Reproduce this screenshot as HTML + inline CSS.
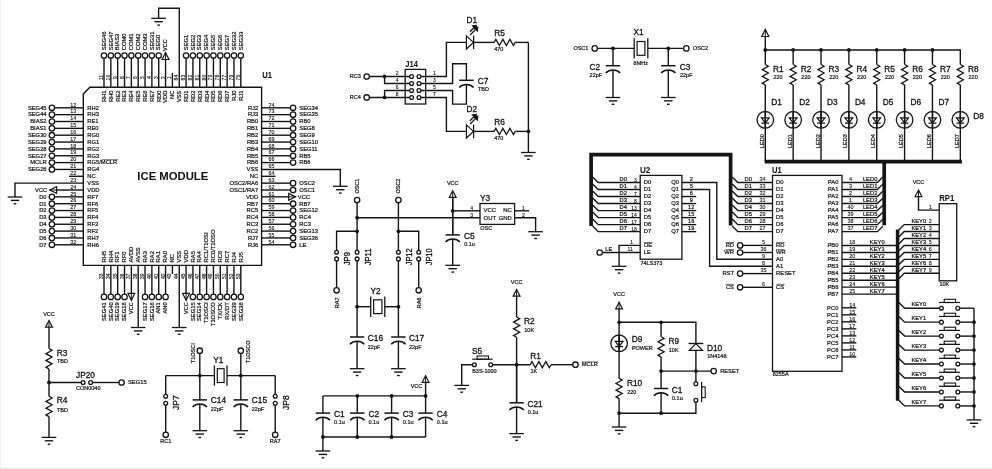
<!DOCTYPE html>
<html lang="en">
<head>
<meta charset="utf-8">
<title>ICE Module schematic</title>
<style>
html,body{margin:0;padding:0;background:#fff;}
body{width:992px;height:469px;overflow:hidden;position:relative;}
svg{will-change:transform;display:block;position:absolute;left:0;top:0;}
svg text{font-family:"Liberation Sans",sans-serif;fill:#151515;stroke:#151515;stroke-width:0.22;}
svg text.n{stroke-width:0.12;}
svg text.r{stroke-width:0.3;}
svg text.b{stroke-width:0.05;}
svg text.h{stroke-width:0.35;}
.frame{position:absolute;left:0;top:0;width:992px;height:469px;box-sizing:border-box;border-left:1px solid #f1f1f1;border-bottom:2px solid #f3f3f3;pointer-events:none;}
</style>
</head>
<body>
<svg width="992" height="469" viewBox="0 0 992 469" fill="none" stroke="#151515" stroke-width="1.4" stroke-linecap="butt" stroke-linejoin="miter">
<polygon points="89.9,87.3 261.6,87.3 261.6,265.4 83.3,265.4 83.3,93.9" stroke-width="1.4"/>
<text x="172.8" y="180.2" font-size="11.3" class="b" text-anchor="middle" font-weight="bold">ICE MODULE</text>
<text x="262.2" y="77.6" font-size="8.8" textLength="9.7" lengthAdjust="spacingAndGlyphs" class="b" font-weight="bold">U1</text>
<text font-size="5.8" text-anchor="end" transform="translate(105.9 90.5) rotate(-90)">RH1</text>
<text font-size="5" class="n" text-anchor="middle" transform="translate(103 77.6) rotate(-90)">11</text>
<line x1="104" y1="57" x2="104" y2="87.3"/>
<circle cx="104" cy="55.5" r="2.7" fill="#fff" stroke-width="1.3"/>
<text font-size="5.8" transform="translate(105.7 50.2) rotate(-90)">SEG46</text>
<text font-size="5.8" text-anchor="end" transform="translate(112.74 90.5) rotate(-90)">RH0</text>
<text font-size="5" class="n" text-anchor="middle" transform="translate(109.84 77.6) rotate(-90)">10</text>
<line x1="110.84" y1="57" x2="110.84" y2="87.3"/>
<circle cx="110.84" cy="55.5" r="2.7" fill="#fff" stroke-width="1.3"/>
<text font-size="5.8" transform="translate(112.54 50.2) rotate(-90)">SEG47</text>
<text font-size="5.8" text-anchor="end" transform="translate(119.58 90.5) rotate(-90)">RE2</text>
<text font-size="5" class="n" text-anchor="middle" transform="translate(116.68 77.6) rotate(-90)">9</text>
<line x1="117.68" y1="57" x2="117.68" y2="87.3"/>
<circle cx="117.68" cy="55.5" r="2.7" fill="#fff" stroke-width="1.3"/>
<text font-size="5.8" transform="translate(119.38 50.2) rotate(-90)">BIAS3</text>
<text font-size="5.8" text-anchor="end" transform="translate(126.42 90.5) rotate(-90)">RE3</text>
<text font-size="5" class="n" text-anchor="middle" transform="translate(123.52 77.6) rotate(-90)">8</text>
<line x1="124.52" y1="57" x2="124.52" y2="87.3"/>
<circle cx="124.52" cy="55.5" r="2.7" fill="#fff" stroke-width="1.3"/>
<text font-size="5.8" transform="translate(126.22 50.2) rotate(-90)">COM0</text>
<text font-size="5.8" text-anchor="end" transform="translate(133.26 90.5) rotate(-90)">RE4</text>
<text font-size="5" class="n" text-anchor="middle" transform="translate(130.36 77.6) rotate(-90)">7</text>
<line x1="131.36" y1="57" x2="131.36" y2="87.3"/>
<circle cx="131.36" cy="55.5" r="2.7" fill="#fff" stroke-width="1.3"/>
<text font-size="5.8" transform="translate(133.06 50.2) rotate(-90)">COM1</text>
<text font-size="5.8" text-anchor="end" transform="translate(140.1 90.5) rotate(-90)">RE5</text>
<text font-size="5" class="n" text-anchor="middle" transform="translate(137.2 77.6) rotate(-90)">6</text>
<line x1="138.2" y1="57" x2="138.2" y2="87.3"/>
<circle cx="138.2" cy="55.5" r="2.7" fill="#fff" stroke-width="1.3"/>
<text font-size="5.8" transform="translate(139.9 50.2) rotate(-90)">COM2</text>
<text font-size="5.8" text-anchor="end" transform="translate(146.94 90.5) rotate(-90)">RE6</text>
<text font-size="5" class="n" text-anchor="middle" transform="translate(144.04 77.6) rotate(-90)">5</text>
<line x1="145.04" y1="57" x2="145.04" y2="87.3"/>
<circle cx="145.04" cy="55.5" r="2.7" fill="#fff" stroke-width="1.3"/>
<text font-size="5.8" transform="translate(146.74 50.2) rotate(-90)">COM3</text>
<text font-size="5.8" text-anchor="end" transform="translate(153.78 90.5) rotate(-90)">RE7</text>
<text font-size="5" class="n" text-anchor="middle" transform="translate(150.88 77.6) rotate(-90)">4</text>
<line x1="151.88" y1="57" x2="151.88" y2="87.3"/>
<circle cx="151.88" cy="55.5" r="2.7" fill="#fff" stroke-width="1.3"/>
<text font-size="5.8" transform="translate(153.58 50.2) rotate(-90)">SEG31</text>
<text font-size="5.8" text-anchor="end" transform="translate(160.62 90.5) rotate(-90)">RD0</text>
<text font-size="5" class="n" text-anchor="middle" transform="translate(157.72 77.6) rotate(-90)">3</text>
<line x1="158.72" y1="57" x2="158.72" y2="87.3"/>
<circle cx="158.72" cy="55.5" r="2.7" fill="#fff" stroke-width="1.3"/>
<text font-size="5.8" transform="translate(160.42 50.2) rotate(-90)">SEG0</text>
<text font-size="5.8" text-anchor="end" transform="translate(167.46 90.5) rotate(-90)">VDD</text>
<text font-size="5" class="n" text-anchor="middle" transform="translate(164.56 77.6) rotate(-90)">2</text>
<line x1="165.56" y1="59" x2="165.56" y2="87.3"/>
<polygon points="162.16,59.5 168.96,59.5 165.56,52.6" stroke-width="1.2" fill="#fff"/>
<line x1="165.56" y1="52.6" x2="165.56" y2="59.5" stroke-width="1"/>
<text font-size="5.5" transform="translate(167.26 51) rotate(-90)">VCC</text>
<text font-size="5.8" text-anchor="end" transform="translate(174.3 90.5) rotate(-90)">NC</text>
<text font-size="5" class="n" text-anchor="middle" transform="translate(171.4 77.6) rotate(-90)">1</text>
<line x1="172.4" y1="73" x2="172.4" y2="87.3"/>
<text font-size="5.8" text-anchor="end" transform="translate(181.14 90.5) rotate(-90)">VSS</text>
<text font-size="5" class="n" text-anchor="middle" transform="translate(178.24 77.6) rotate(-90)">84</text>
<polyline points="179.24,87.3 179.24,8.3 158.6,8.3 158.6,18.3"/>
<line x1="151.3" y1="18.3" x2="165.9" y2="18.3" stroke-width="1.3"/>
<line x1="154.4" y1="21.7" x2="162.8" y2="21.7" stroke-width="1.4"/>
<line x1="157.3" y1="25.1" x2="159.9" y2="25.1" stroke-width="1.4"/>
<text font-size="5.8" text-anchor="end" transform="translate(187.98 90.5) rotate(-90)">RD1</text>
<text font-size="5" class="n" text-anchor="middle" transform="translate(185.08 77.6) rotate(-90)">83</text>
<line x1="186.08" y1="57" x2="186.08" y2="87.3"/>
<circle cx="186.08" cy="55.5" r="2.7" fill="#fff" stroke-width="1.3"/>
<text font-size="5.8" transform="translate(187.78 50.2) rotate(-90)">SEG1</text>
<text font-size="5.8" text-anchor="end" transform="translate(194.82 90.5) rotate(-90)">RD2</text>
<text font-size="5" class="n" text-anchor="middle" transform="translate(191.92 77.6) rotate(-90)">82</text>
<line x1="192.92" y1="57" x2="192.92" y2="87.3"/>
<circle cx="192.92" cy="55.5" r="2.7" fill="#fff" stroke-width="1.3"/>
<text font-size="5.8" transform="translate(194.62 50.2) rotate(-90)">SEG2</text>
<text font-size="5.8" text-anchor="end" transform="translate(201.66 90.5) rotate(-90)">RD3</text>
<text font-size="5" class="n" text-anchor="middle" transform="translate(198.76 77.6) rotate(-90)">81</text>
<line x1="199.76" y1="57" x2="199.76" y2="87.3"/>
<circle cx="199.76" cy="55.5" r="2.7" fill="#fff" stroke-width="1.3"/>
<text font-size="5.8" transform="translate(201.46 50.2) rotate(-90)">SEG3</text>
<text font-size="5.8" text-anchor="end" transform="translate(208.5 90.5) rotate(-90)">RD4</text>
<text font-size="5" class="n" text-anchor="middle" transform="translate(205.6 77.6) rotate(-90)">80</text>
<line x1="206.6" y1="57" x2="206.6" y2="87.3"/>
<circle cx="206.6" cy="55.5" r="2.7" fill="#fff" stroke-width="1.3"/>
<text font-size="5.8" transform="translate(208.3 50.2) rotate(-90)">SEG4</text>
<text font-size="5.8" text-anchor="end" transform="translate(215.34 90.5) rotate(-90)">RD5</text>
<text font-size="5" class="n" text-anchor="middle" transform="translate(212.44 77.6) rotate(-90)">79</text>
<line x1="213.44" y1="57" x2="213.44" y2="87.3"/>
<circle cx="213.44" cy="55.5" r="2.7" fill="#fff" stroke-width="1.3"/>
<text font-size="5.8" transform="translate(215.14 50.2) rotate(-90)">SEG5</text>
<text font-size="5.8" text-anchor="end" transform="translate(222.18 90.5) rotate(-90)">RD6</text>
<text font-size="5" class="n" text-anchor="middle" transform="translate(219.28 77.6) rotate(-90)">78</text>
<line x1="220.28" y1="57" x2="220.28" y2="87.3"/>
<circle cx="220.28" cy="55.5" r="2.7" fill="#fff" stroke-width="1.3"/>
<text font-size="5.8" transform="translate(221.98 50.2) rotate(-90)">SEG6</text>
<text font-size="5.8" text-anchor="end" transform="translate(229.02 90.5) rotate(-90)">RD7</text>
<text font-size="5" class="n" text-anchor="middle" transform="translate(226.12 77.6) rotate(-90)">77</text>
<line x1="227.12" y1="57" x2="227.12" y2="87.3"/>
<circle cx="227.12" cy="55.5" r="2.7" fill="#fff" stroke-width="1.3"/>
<text font-size="5.8" transform="translate(228.82 50.2) rotate(-90)">SEG7</text>
<text font-size="5.8" text-anchor="end" transform="translate(235.86 90.5) rotate(-90)">RJ0</text>
<text font-size="5" class="n" text-anchor="middle" transform="translate(232.96 77.6) rotate(-90)">76</text>
<line x1="233.96" y1="57" x2="233.96" y2="87.3"/>
<circle cx="233.96" cy="55.5" r="2.7" fill="#fff" stroke-width="1.3"/>
<text font-size="5.8" transform="translate(235.66 50.2) rotate(-90)">SEG32</text>
<text font-size="5.8" text-anchor="end" transform="translate(242.7 90.5) rotate(-90)">RJ1</text>
<text font-size="5" class="n" text-anchor="middle" transform="translate(239.8 77.6) rotate(-90)">75</text>
<line x1="240.8" y1="57" x2="240.8" y2="87.3"/>
<circle cx="240.8" cy="55.5" r="2.7" fill="#fff" stroke-width="1.3"/>
<text font-size="5.8" transform="translate(242.5 50.2) rotate(-90)">SEG33</text>
<text font-size="5.8" transform="translate(105.7 262.4) rotate(-90)">RH5</text>
<text font-size="5" class="n" text-anchor="middle" transform="translate(103 276.2) rotate(-90)">33</text>
<line x1="104" y1="265.4" x2="104" y2="295"/>
<circle cx="104" cy="296.9" r="2.7" fill="#fff" stroke-width="1.3"/>
<text font-size="5.8" text-anchor="end" transform="translate(105.7 302.3) rotate(-90)">SEG41</text>
<text font-size="5.8" transform="translate(112.54 262.4) rotate(-90)">RH4</text>
<text font-size="5" class="n" text-anchor="middle" transform="translate(109.84 276.2) rotate(-90)">34</text>
<line x1="110.84" y1="265.4" x2="110.84" y2="295"/>
<circle cx="110.84" cy="296.9" r="2.7" fill="#fff" stroke-width="1.3"/>
<text font-size="5.8" text-anchor="end" transform="translate(112.54 302.3) rotate(-90)">SEG40</text>
<text font-size="5.8" transform="translate(119.38 262.4) rotate(-90)">RF1</text>
<text font-size="5" class="n" text-anchor="middle" transform="translate(116.68 276.2) rotate(-90)">35</text>
<line x1="117.68" y1="265.4" x2="117.68" y2="295"/>
<circle cx="117.68" cy="296.9" r="2.7" fill="#fff" stroke-width="1.3"/>
<text font-size="5.8" text-anchor="end" transform="translate(119.38 302.3) rotate(-90)">SEG19</text>
<text font-size="5.8" transform="translate(126.22 262.4) rotate(-90)">RF0</text>
<text font-size="5" class="n" text-anchor="middle" transform="translate(123.52 276.2) rotate(-90)">36</text>
<line x1="124.52" y1="265.4" x2="124.52" y2="295"/>
<circle cx="124.52" cy="296.9" r="2.7" fill="#fff" stroke-width="1.3"/>
<text font-size="5.8" text-anchor="end" transform="translate(126.22 302.3) rotate(-90)">SEG18</text>
<text font-size="5.8" transform="translate(133.06 262.4) rotate(-90)">AVDD</text>
<text font-size="5" class="n" text-anchor="middle" transform="translate(130.36 276.2) rotate(-90)">37</text>
<line x1="131.36" y1="265.4" x2="131.36" y2="294"/>
<polygon points="127.96,293.4 134.76,293.4 131.36,300.3" stroke-width="1.2" fill="#fff"/>
<line x1="131.36" y1="300.3" x2="131.36" y2="293.4" stroke-width="1"/>
<text font-size="5.5" text-anchor="end" transform="translate(133.06 302.3) rotate(-90)">VCC</text>
<text font-size="5.8" transform="translate(139.9 262.4) rotate(-90)">AVSS</text>
<text font-size="5" class="n" text-anchor="middle" transform="translate(137.2 276.2) rotate(-90)">38</text>
<line x1="138.2" y1="265.4" x2="138.2" y2="327.5"/>
<line x1="130.9" y1="327.5" x2="145.5" y2="327.5" stroke-width="1.3"/>
<line x1="134" y1="330.9" x2="142.4" y2="330.9" stroke-width="1.4"/>
<line x1="136.9" y1="334.3" x2="139.5" y2="334.3" stroke-width="1.4"/>
<text font-size="5.8" transform="translate(146.74 262.4) rotate(-90)">RA3</text>
<text font-size="5" class="n" text-anchor="middle" transform="translate(144.04 276.2) rotate(-90)">39</text>
<line x1="145.04" y1="265.4" x2="145.04" y2="295"/>
<circle cx="145.04" cy="296.9" r="2.7" fill="#fff" stroke-width="1.3"/>
<text font-size="5.8" text-anchor="end" transform="translate(146.74 302.3) rotate(-90)">SEG17</text>
<text font-size="5.8" transform="translate(153.58 262.4) rotate(-90)">RA2</text>
<text font-size="5" class="n" text-anchor="middle" transform="translate(150.88 276.2) rotate(-90)">40</text>
<line x1="151.88" y1="265.4" x2="151.88" y2="295"/>
<circle cx="151.88" cy="296.9" r="2.7" fill="#fff" stroke-width="1.3"/>
<text font-size="5.8" text-anchor="end" transform="translate(153.58 302.3) rotate(-90)">SEG16</text>
<text font-size="5.8" transform="translate(160.42 262.4) rotate(-90)">RA1</text>
<text font-size="5" class="n" text-anchor="middle" transform="translate(157.72 276.2) rotate(-90)">41</text>
<line x1="158.72" y1="265.4" x2="158.72" y2="295"/>
<circle cx="158.72" cy="296.9" r="2.7" fill="#fff" stroke-width="1.3"/>
<text font-size="5.8" text-anchor="end" transform="translate(160.42 302.3) rotate(-90)">AN1</text>
<text font-size="5.8" transform="translate(167.26 262.4) rotate(-90)">RA0</text>
<text font-size="5" class="n" text-anchor="middle" transform="translate(164.56 276.2) rotate(-90)">42</text>
<line x1="165.56" y1="265.4" x2="165.56" y2="295"/>
<circle cx="165.56" cy="296.9" r="2.7" fill="#fff" stroke-width="1.3"/>
<text font-size="5.8" text-anchor="end" transform="translate(167.26 302.3) rotate(-90)">AN0</text>
<text font-size="5.8" transform="translate(174.1 262.4) rotate(-90)">NC</text>
<text font-size="5" class="n" text-anchor="middle" transform="translate(171.4 276.2) rotate(-90)">43</text>
<line x1="172.4" y1="265.4" x2="172.4" y2="274"/>
<text font-size="5.8" transform="translate(180.94 262.4) rotate(-90)">VSS</text>
<text font-size="5" class="n" text-anchor="middle" transform="translate(178.24 276.2) rotate(-90)">44</text>
<line x1="179.24" y1="265.4" x2="179.24" y2="327.5"/>
<line x1="171.94" y1="327.5" x2="186.54" y2="327.5" stroke-width="1.3"/>
<line x1="175.04" y1="330.9" x2="183.44" y2="330.9" stroke-width="1.4"/>
<line x1="177.94" y1="334.3" x2="180.54" y2="334.3" stroke-width="1.4"/>
<text font-size="5.8" transform="translate(187.78 262.4) rotate(-90)">VDD</text>
<text font-size="5" class="n" text-anchor="middle" transform="translate(185.08 276.2) rotate(-90)">45</text>
<line x1="186.08" y1="265.4" x2="186.08" y2="294"/>
<polygon points="182.68,293.4 189.48,293.4 186.08,300.3" stroke-width="1.2" fill="#fff"/>
<line x1="186.08" y1="300.3" x2="186.08" y2="293.4" stroke-width="1"/>
<text font-size="5.5" text-anchor="end" transform="translate(187.78 302.3) rotate(-90)">VCC</text>
<text font-size="5.8" transform="translate(194.62 262.4) rotate(-90)">RA5</text>
<text font-size="5" class="n" text-anchor="middle" transform="translate(191.92 276.2) rotate(-90)">46</text>
<line x1="192.92" y1="265.4" x2="192.92" y2="295"/>
<circle cx="192.92" cy="296.9" r="2.7" fill="#fff" stroke-width="1.3"/>
<text font-size="5.8" text-anchor="end" transform="translate(194.62 302.3) rotate(-90)">SEG15</text>
<text font-size="5.8" transform="translate(201.46 262.4) rotate(-90)">RA4</text>
<text font-size="5" class="n" text-anchor="middle" transform="translate(198.76 276.2) rotate(-90)">47</text>
<line x1="199.76" y1="265.4" x2="199.76" y2="295"/>
<circle cx="199.76" cy="296.9" r="2.7" fill="#fff" stroke-width="1.3"/>
<text font-size="5.8" text-anchor="end" transform="translate(201.46 302.3) rotate(-90)">SEG14</text>
<text font-size="5.8" transform="translate(208.3 262.4) rotate(-90)">RC1/T1OSI</text>
<text font-size="5" class="n" text-anchor="middle" transform="translate(205.6 276.2) rotate(-90)">48</text>
<line x1="206.6" y1="265.4" x2="206.6" y2="295"/>
<circle cx="206.6" cy="296.9" r="2.7" fill="#fff" stroke-width="1.3"/>
<text font-size="5.8" text-anchor="end" transform="translate(208.3 302.3) rotate(-90)">T1OSCI</text>
<text font-size="5.8" transform="translate(215.14 262.4) rotate(-90)">RC0/T1OSO</text>
<text font-size="5" class="n" text-anchor="middle" transform="translate(212.44 276.2) rotate(-90)">49</text>
<line x1="213.44" y1="265.4" x2="213.44" y2="295"/>
<circle cx="213.44" cy="296.9" r="2.7" fill="#fff" stroke-width="1.3"/>
<text font-size="5.8" text-anchor="end" transform="translate(215.14 302.3) rotate(-90)">T1OSCO</text>
<text font-size="5.8" transform="translate(221.98 262.4) rotate(-90)">RC6</text>
<text font-size="5" class="n" text-anchor="middle" transform="translate(219.28 276.2) rotate(-90)">50</text>
<line x1="220.28" y1="265.4" x2="220.28" y2="295"/>
<circle cx="220.28" cy="296.9" r="2.7" fill="#fff" stroke-width="1.3"/>
<text font-size="5.8" text-anchor="end" transform="translate(221.98 302.3) rotate(-90)">TX/CK</text>
<text font-size="5.8" transform="translate(228.82 262.4) rotate(-90)">RC7</text>
<text font-size="5" class="n" text-anchor="middle" transform="translate(226.12 276.2) rotate(-90)">51</text>
<line x1="227.12" y1="265.4" x2="227.12" y2="295"/>
<circle cx="227.12" cy="296.9" r="2.7" fill="#fff" stroke-width="1.3"/>
<text font-size="5.8" text-anchor="end" transform="translate(228.82 302.3) rotate(-90)">RX/DT</text>
<text font-size="5.8" transform="translate(235.66 262.4) rotate(-90)">RJ4</text>
<text font-size="5" class="n" text-anchor="middle" transform="translate(232.96 276.2) rotate(-90)">52</text>
<line x1="233.96" y1="265.4" x2="233.96" y2="295"/>
<circle cx="233.96" cy="296.9" r="2.7" fill="#fff" stroke-width="1.3"/>
<text font-size="5.8" text-anchor="end" transform="translate(235.66 302.3) rotate(-90)">SEG39</text>
<text font-size="5.8" transform="translate(242.5 262.4) rotate(-90)">RJ5</text>
<text font-size="5" class="n" text-anchor="middle" transform="translate(239.8 276.2) rotate(-90)">53</text>
<line x1="240.8" y1="265.4" x2="240.8" y2="295"/>
<circle cx="240.8" cy="296.9" r="2.7" fill="#fff" stroke-width="1.3"/>
<text font-size="5.8" text-anchor="end" transform="translate(242.5 302.3) rotate(-90)">SEG38</text>
<text x="87.3" y="109.6" font-size="5.8">RH2</text>
<text x="73.2" y="106.5" font-size="5.4" class="n" text-anchor="middle">12</text>
<line x1="54" y1="107.8" x2="83.3" y2="107.8"/>
<circle cx="51.9" cy="107.8" r="2.7" fill="#fff" stroke-width="1.3"/>
<text x="46.6" y="109.6" font-size="5.8" text-anchor="end">SEG45</text>
<text x="87.3" y="116.45" font-size="5.8">RH3</text>
<text x="73.2" y="113.35" font-size="5.4" class="n" text-anchor="middle">13</text>
<line x1="54" y1="114.65" x2="83.3" y2="114.65"/>
<circle cx="51.9" cy="114.65" r="2.7" fill="#fff" stroke-width="1.3"/>
<text x="46.6" y="116.45" font-size="5.8" text-anchor="end">SEG44</text>
<text x="87.3" y="123.3" font-size="5.8">RE1</text>
<text x="73.2" y="120.2" font-size="5.4" class="n" text-anchor="middle">14</text>
<line x1="54" y1="121.5" x2="83.3" y2="121.5"/>
<circle cx="51.9" cy="121.5" r="2.7" fill="#fff" stroke-width="1.3"/>
<text x="46.6" y="123.3" font-size="5.8" text-anchor="end">BIAS2</text>
<text x="87.3" y="130.15" font-size="5.8">RE0</text>
<text x="73.2" y="127.05" font-size="5.4" class="n" text-anchor="middle">15</text>
<line x1="54" y1="128.35" x2="83.3" y2="128.35"/>
<circle cx="51.9" cy="128.35" r="2.7" fill="#fff" stroke-width="1.3"/>
<text x="46.6" y="130.15" font-size="5.8" text-anchor="end">BIAS1</text>
<text x="87.3" y="137" font-size="5.8">RG0</text>
<text x="73.2" y="133.9" font-size="5.4" class="n" text-anchor="middle">16</text>
<line x1="54" y1="135.2" x2="83.3" y2="135.2"/>
<circle cx="51.9" cy="135.2" r="2.7" fill="#fff" stroke-width="1.3"/>
<text x="46.6" y="137" font-size="5.8" text-anchor="end">SEG30</text>
<text x="87.3" y="143.85" font-size="5.8">RG1</text>
<text x="73.2" y="140.75" font-size="5.4" class="n" text-anchor="middle">17</text>
<line x1="54" y1="142.05" x2="83.3" y2="142.05"/>
<circle cx="51.9" cy="142.05" r="2.7" fill="#fff" stroke-width="1.3"/>
<text x="46.6" y="143.85" font-size="5.8" text-anchor="end">SEG29</text>
<text x="87.3" y="150.7" font-size="5.8">RG2</text>
<text x="73.2" y="147.6" font-size="5.4" class="n" text-anchor="middle">18</text>
<line x1="54" y1="148.9" x2="83.3" y2="148.9"/>
<circle cx="51.9" cy="148.9" r="2.7" fill="#fff" stroke-width="1.3"/>
<text x="46.6" y="150.7" font-size="5.8" text-anchor="end">SEG28</text>
<text x="87.3" y="157.55" font-size="5.8">RG3</text>
<text x="73.2" y="154.45" font-size="5.4" class="n" text-anchor="middle">19</text>
<line x1="54" y1="155.75" x2="83.3" y2="155.75"/>
<circle cx="51.9" cy="155.75" r="2.7" fill="#fff" stroke-width="1.3"/>
<text x="46.6" y="157.55" font-size="5.8" text-anchor="end">SEG27</text>
<text x="87.3" y="164.4" font-size="5.8">RG5/MCLR</text>
<text x="73.2" y="161.3" font-size="5.4" class="n" text-anchor="middle">20</text>
<line x1="101.6" y1="159.7" x2="118.1" y2="159.7" stroke-width="0.6"/>
<line x1="54" y1="162.6" x2="83.3" y2="162.6"/>
<circle cx="51.9" cy="162.6" r="2.7" fill="#fff" stroke-width="1.3"/>
<text x="46.6" y="164.4" font-size="5.8" text-anchor="end">MCLR</text>
<text x="87.3" y="171.25" font-size="5.8">RG4</text>
<text x="73.2" y="168.15" font-size="5.4" class="n" text-anchor="middle">21</text>
<line x1="54" y1="169.45" x2="83.3" y2="169.45"/>
<circle cx="51.9" cy="169.45" r="2.7" fill="#fff" stroke-width="1.3"/>
<text x="46.6" y="171.25" font-size="5.8" text-anchor="end">SEG26</text>
<text x="87.3" y="178.1" font-size="5.8">NC</text>
<text x="73.2" y="175" font-size="5.4" class="n" text-anchor="middle">22</text>
<line x1="69" y1="176.3" x2="83.3" y2="176.3"/>
<text x="87.3" y="184.95" font-size="5.8">VSS</text>
<text x="73.2" y="181.85" font-size="5.4" class="n" text-anchor="middle">23</text>
<polyline points="83.3,183.15 15,183.15 15,197"/>
<line x1="7.7" y1="197" x2="22.3" y2="197" stroke-width="1.3"/>
<line x1="10.8" y1="200.4" x2="19.2" y2="200.4" stroke-width="1.4"/>
<line x1="13.7" y1="203.8" x2="16.3" y2="203.8" stroke-width="1.4"/>
<text x="87.3" y="191.8" font-size="5.8">VDD</text>
<text x="73.2" y="188.7" font-size="5.4" class="n" text-anchor="middle">24</text>
<line x1="56" y1="190" x2="83.3" y2="190"/>
<polygon points="56.6,186.6 56.6,193.4 49.7,190" stroke-width="1.2" fill="#fff"/>
<line x1="49.7" y1="190" x2="56.6" y2="190" stroke-width="1"/>
<text x="47.3" y="191.7" font-size="5.8" text-anchor="end">VCC</text>
<text x="87.3" y="198.65" font-size="5.8">RF7</text>
<text x="73.2" y="195.55" font-size="5.4" class="n" text-anchor="middle">25</text>
<line x1="54" y1="196.85" x2="83.3" y2="196.85"/>
<circle cx="51.9" cy="196.85" r="2.7" fill="#fff" stroke-width="1.3"/>
<text x="46.6" y="198.65" font-size="5.8" text-anchor="end">D0</text>
<text x="87.3" y="205.5" font-size="5.8">RF6</text>
<text x="73.2" y="202.4" font-size="5.4" class="n" text-anchor="middle">26</text>
<line x1="54" y1="203.7" x2="83.3" y2="203.7"/>
<circle cx="51.9" cy="203.7" r="2.7" fill="#fff" stroke-width="1.3"/>
<text x="46.6" y="205.5" font-size="5.8" text-anchor="end">D1</text>
<text x="87.3" y="212.35" font-size="5.8">RF5</text>
<text x="73.2" y="209.25" font-size="5.4" class="n" text-anchor="middle">27</text>
<line x1="54" y1="210.55" x2="83.3" y2="210.55"/>
<circle cx="51.9" cy="210.55" r="2.7" fill="#fff" stroke-width="1.3"/>
<text x="46.6" y="212.35" font-size="5.8" text-anchor="end">D2</text>
<text x="87.3" y="219.2" font-size="5.8">RF4</text>
<text x="73.2" y="216.1" font-size="5.4" class="n" text-anchor="middle">28</text>
<line x1="54" y1="217.4" x2="83.3" y2="217.4"/>
<circle cx="51.9" cy="217.4" r="2.7" fill="#fff" stroke-width="1.3"/>
<text x="46.6" y="219.2" font-size="5.8" text-anchor="end">D3</text>
<text x="87.3" y="226.05" font-size="5.8">RF3</text>
<text x="73.2" y="222.95" font-size="5.4" class="n" text-anchor="middle">29</text>
<line x1="54" y1="224.25" x2="83.3" y2="224.25"/>
<circle cx="51.9" cy="224.25" r="2.7" fill="#fff" stroke-width="1.3"/>
<text x="46.6" y="226.05" font-size="5.8" text-anchor="end">D4</text>
<text x="87.3" y="232.9" font-size="5.8">RF2</text>
<text x="73.2" y="229.8" font-size="5.4" class="n" text-anchor="middle">30</text>
<line x1="54" y1="231.1" x2="83.3" y2="231.1"/>
<circle cx="51.9" cy="231.1" r="2.7" fill="#fff" stroke-width="1.3"/>
<text x="46.6" y="232.9" font-size="5.8" text-anchor="end">D5</text>
<text x="87.3" y="239.75" font-size="5.8">RH7</text>
<text x="73.2" y="236.65" font-size="5.4" class="n" text-anchor="middle">31</text>
<line x1="54" y1="237.95" x2="83.3" y2="237.95"/>
<circle cx="51.9" cy="237.95" r="2.7" fill="#fff" stroke-width="1.3"/>
<text x="46.6" y="239.75" font-size="5.8" text-anchor="end">D6</text>
<text x="87.3" y="246.6" font-size="5.8">RH6</text>
<text x="73.2" y="243.5" font-size="5.4" class="n" text-anchor="middle">32</text>
<line x1="54" y1="244.8" x2="83.3" y2="244.8"/>
<circle cx="51.9" cy="244.8" r="2.7" fill="#fff" stroke-width="1.3"/>
<text x="46.6" y="246.6" font-size="5.8" text-anchor="end">D7</text>
<text x="258.2" y="109.6" font-size="5.8" text-anchor="end">RJ2</text>
<text x="271.5" y="106.5" font-size="5.4" class="n" text-anchor="middle">74</text>
<line x1="261.6" y1="107.8" x2="291" y2="107.8"/>
<circle cx="293.1" cy="107.8" r="2.7" fill="#fff" stroke-width="1.3"/>
<text x="299.3" y="109.6" font-size="5.8">SEG34</text>
<text x="258.2" y="116.45" font-size="5.8" text-anchor="end">RJ3</text>
<text x="271.5" y="113.35" font-size="5.4" class="n" text-anchor="middle">73</text>
<line x1="261.6" y1="114.65" x2="291" y2="114.65"/>
<circle cx="293.1" cy="114.65" r="2.7" fill="#fff" stroke-width="1.3"/>
<text x="299.3" y="116.45" font-size="5.8">SEG35</text>
<text x="258.2" y="123.3" font-size="5.8" text-anchor="end">RB0</text>
<text x="271.5" y="120.2" font-size="5.4" class="n" text-anchor="middle">72</text>
<line x1="261.6" y1="121.5" x2="291" y2="121.5"/>
<circle cx="293.1" cy="121.5" r="2.7" fill="#fff" stroke-width="1.3"/>
<text x="299.3" y="123.3" font-size="5.8">RB0</text>
<text x="258.2" y="130.15" font-size="5.8" text-anchor="end">RB1</text>
<text x="271.5" y="127.05" font-size="5.4" class="n" text-anchor="middle">71</text>
<line x1="261.6" y1="128.35" x2="291" y2="128.35"/>
<circle cx="293.1" cy="128.35" r="2.7" fill="#fff" stroke-width="1.3"/>
<text x="299.3" y="130.15" font-size="5.8">SEG8</text>
<text x="258.2" y="137" font-size="5.8" text-anchor="end">RB2</text>
<text x="271.5" y="133.9" font-size="5.4" class="n" text-anchor="middle">70</text>
<line x1="261.6" y1="135.2" x2="291" y2="135.2"/>
<circle cx="293.1" cy="135.2" r="2.7" fill="#fff" stroke-width="1.3"/>
<text x="299.3" y="137" font-size="5.8">SEG9</text>
<text x="258.2" y="143.85" font-size="5.8" text-anchor="end">RB3</text>
<text x="271.5" y="140.75" font-size="5.4" class="n" text-anchor="middle">69</text>
<line x1="261.6" y1="142.05" x2="291" y2="142.05"/>
<circle cx="293.1" cy="142.05" r="2.7" fill="#fff" stroke-width="1.3"/>
<text x="299.3" y="143.85" font-size="5.8">SEG10</text>
<text x="258.2" y="150.7" font-size="5.8" text-anchor="end">RB4</text>
<text x="271.5" y="147.6" font-size="5.4" class="n" text-anchor="middle">68</text>
<line x1="261.6" y1="148.9" x2="291" y2="148.9"/>
<circle cx="293.1" cy="148.9" r="2.7" fill="#fff" stroke-width="1.3"/>
<text x="299.3" y="150.7" font-size="5.8">SEG11</text>
<text x="258.2" y="157.55" font-size="5.8" text-anchor="end">RB5</text>
<text x="271.5" y="154.45" font-size="5.4" class="n" text-anchor="middle">67</text>
<line x1="261.6" y1="155.75" x2="291" y2="155.75"/>
<circle cx="293.1" cy="155.75" r="2.7" fill="#fff" stroke-width="1.3"/>
<text x="299.3" y="157.55" font-size="5.8">RB5</text>
<text x="258.2" y="164.4" font-size="5.8" text-anchor="end">RB6</text>
<text x="271.5" y="161.3" font-size="5.4" class="n" text-anchor="middle">66</text>
<line x1="261.6" y1="162.6" x2="291" y2="162.6"/>
<circle cx="293.1" cy="162.6" r="2.7" fill="#fff" stroke-width="1.3"/>
<text x="299.3" y="164.4" font-size="5.8">RB6</text>
<text x="258.2" y="171.25" font-size="5.8" text-anchor="end">VSS</text>
<text x="271.5" y="168.15" font-size="5.4" class="n" text-anchor="middle">65</text>
<polyline points="261.6,169.45 340.3,169.45 340.3,186.3"/>
<line x1="333" y1="186.3" x2="347.6" y2="186.3" stroke-width="1.3"/>
<line x1="336.1" y1="189.7" x2="344.5" y2="189.7" stroke-width="1.4"/>
<line x1="339" y1="193.1" x2="341.6" y2="193.1" stroke-width="1.4"/>
<text x="258.2" y="178.1" font-size="5.8" text-anchor="end">NC</text>
<text x="271.5" y="175" font-size="5.4" class="n" text-anchor="middle">64</text>
<line x1="261.6" y1="176.3" x2="275.5" y2="176.3"/>
<text x="258.2" y="184.95" font-size="5.8" text-anchor="end">OSC2/RA6</text>
<text x="271.5" y="181.85" font-size="5.4" class="n" text-anchor="middle">63</text>
<line x1="261.6" y1="183.15" x2="291" y2="183.15"/>
<circle cx="293.1" cy="183.15" r="2.7" fill="#fff" stroke-width="1.3"/>
<text x="299.3" y="184.95" font-size="5.8">OSC2</text>
<text x="258.2" y="191.8" font-size="5.8" text-anchor="end">OSC1/RA7</text>
<text x="271.5" y="188.7" font-size="5.4" class="n" text-anchor="middle">62</text>
<line x1="261.6" y1="190" x2="291" y2="190"/>
<circle cx="293.1" cy="190" r="2.7" fill="#fff" stroke-width="1.3"/>
<text x="299.3" y="191.8" font-size="5.8">OSC1</text>
<text x="258.2" y="198.65" font-size="5.8" text-anchor="end">VDD</text>
<text x="271.5" y="195.55" font-size="5.4" class="n" text-anchor="middle">61</text>
<line x1="261.6" y1="196.85" x2="289" y2="196.85"/>
<polygon points="288.7,193.45 288.7,200.25 295.6,196.85" stroke-width="1.2" fill="#fff"/>
<line x1="295.6" y1="196.85" x2="288.7" y2="196.85" stroke-width="1"/>
<text x="297.8" y="198.55" font-size="5.8">VCC</text>
<text x="258.2" y="205.5" font-size="5.8" text-anchor="end">RB7</text>
<text x="271.5" y="202.4" font-size="5.4" class="n" text-anchor="middle">60</text>
<line x1="261.6" y1="203.7" x2="291" y2="203.7"/>
<circle cx="293.1" cy="203.7" r="2.7" fill="#fff" stroke-width="1.3"/>
<text x="299.3" y="205.5" font-size="5.8">RB7</text>
<text x="258.2" y="212.35" font-size="5.8" text-anchor="end">RC5</text>
<text x="271.5" y="209.25" font-size="5.4" class="n" text-anchor="middle">59</text>
<line x1="261.6" y1="210.55" x2="291" y2="210.55"/>
<circle cx="293.1" cy="210.55" r="2.7" fill="#fff" stroke-width="1.3"/>
<text x="299.3" y="212.35" font-size="5.8">SEG12</text>
<text x="258.2" y="219.2" font-size="5.8" text-anchor="end">RC4</text>
<text x="271.5" y="216.1" font-size="5.4" class="n" text-anchor="middle">58</text>
<line x1="261.6" y1="217.4" x2="291" y2="217.4"/>
<circle cx="293.1" cy="217.4" r="2.7" fill="#fff" stroke-width="1.3"/>
<text x="299.3" y="219.2" font-size="5.8">RC4</text>
<text x="258.2" y="226.05" font-size="5.8" text-anchor="end">RC3</text>
<text x="271.5" y="222.95" font-size="5.4" class="n" text-anchor="middle">57</text>
<line x1="261.6" y1="224.25" x2="291" y2="224.25"/>
<circle cx="293.1" cy="224.25" r="2.7" fill="#fff" stroke-width="1.3"/>
<text x="299.3" y="226.05" font-size="5.8">RC3</text>
<text x="258.2" y="232.9" font-size="5.8" text-anchor="end">RC2</text>
<text x="271.5" y="229.8" font-size="5.4" class="n" text-anchor="middle">56</text>
<line x1="261.6" y1="231.1" x2="291" y2="231.1"/>
<circle cx="293.1" cy="231.1" r="2.7" fill="#fff" stroke-width="1.3"/>
<text x="299.3" y="232.9" font-size="5.8">SEG13</text>
<text x="258.2" y="239.75" font-size="5.8" text-anchor="end">RJ7</text>
<text x="271.5" y="236.65" font-size="5.4" class="n" text-anchor="middle">55</text>
<line x1="261.6" y1="237.95" x2="291" y2="237.95"/>
<circle cx="293.1" cy="237.95" r="2.7" fill="#fff" stroke-width="1.3"/>
<text x="299.3" y="239.75" font-size="5.8">SEG36</text>
<text x="258.2" y="246.6" font-size="5.8" text-anchor="end">RJ6</text>
<text x="271.5" y="243.5" font-size="5.4" class="n" text-anchor="middle">54</text>
<line x1="261.6" y1="244.8" x2="291" y2="244.8"/>
<circle cx="293.1" cy="244.8" r="2.7" fill="#fff" stroke-width="1.3"/>
<text x="299.3" y="246.6" font-size="5.8">LE</text>
<polygon points="45.6,327.2 52.4,327.2 49,320.6" stroke-width="1.2" fill="#fff"/>
<line x1="49" y1="320.6" x2="49" y2="327.2" stroke-width="1"/>
<text x="49" y="315.9" font-size="5.5" text-anchor="middle">VCC</text>
<line x1="49" y1="327.2" x2="49" y2="348.6"/>
<polyline points="49,348.6 52.05,350.29 45.95,353.68 52.05,357.06 45.95,360.44 52.05,363.82 45.95,367.21 49,368.9" stroke-width="1.3"/>
<line x1="49" y1="368.9" x2="49" y2="396.3"/>
<polyline points="49,396.3 52.05,397.99 45.95,401.38 52.05,404.76 45.95,408.14 52.05,411.52 45.95,414.91 49,416.6" stroke-width="1.3"/>
<line x1="49" y1="416.6" x2="49" y2="437.4"/>
<line x1="41.7" y1="437.4" x2="56.3" y2="437.4" stroke-width="1.3"/>
<line x1="44.8" y1="440.8" x2="53.2" y2="440.8" stroke-width="1.4"/>
<line x1="47.7" y1="444.2" x2="50.3" y2="444.2" stroke-width="1.4"/>
<text x="56.7" y="355.8" font-size="8.3" class="r">R3</text>
<text x="57" y="363" font-size="5.5">TBD</text>
<text x="56.7" y="403.2" font-size="8.3" class="r">R4</text>
<text x="57" y="411.6" font-size="5.5">TBD</text>
<line x1="49" y1="382.5" x2="81.2" y2="382.5"/>
<line x1="92.5" y1="382.5" x2="119" y2="382.5"/>
<circle cx="49" cy="382.5" r="1.9" fill="#151515" stroke="none"/>
<circle cx="83.1" cy="382.5" r="1.9" fill="#fff" stroke-width="1.3"/>
<circle cx="90.6" cy="382.5" r="1.9" fill="#fff" stroke-width="1.3"/>
<circle cx="121.6" cy="382.5" r="2.7" fill="#fff" stroke-width="1.3"/>
<text x="76" y="378" font-size="8.3" class="r">JP20</text>
<text x="76" y="390" font-size="5.5">CON0040</text>
<text x="128" y="384.3" font-size="5.8">SEG15</text>
<line x1="165.7" y1="375.6" x2="214.4" y2="375.6"/>
<line x1="227" y1="375.6" x2="275.2" y2="375.6"/>
<line x1="214.4" y1="365.4" x2="214.4" y2="385.8" stroke-width="1.3"/>
<line x1="227" y1="365.4" x2="227" y2="385.8" stroke-width="1.3"/>
<rect x="217.3" y="368.7" width="6.8" height="13.8" stroke-width="1.2"/>
<text x="213.2" y="363.4" font-size="8.3" class="r">Y1</text>
<line x1="199.8" y1="353" x2="199.8" y2="375.6"/>
<circle cx="199.8" cy="350.7" r="2.7" fill="#fff" stroke-width="1.3"/>
<circle cx="199.8" cy="375.6" r="1.9" fill="#151515" stroke="none"/>
<line x1="199.8" y1="375.6" x2="199.8" y2="399.9"/>
<line x1="199.8" y1="404.1" x2="199.8" y2="430.7"/>
<line x1="192.6" y1="399.9" x2="207" y2="399.9" stroke-width="1.5"/>
<path d="M192.6 407.1 Q195.34 404.1 199.8 404.1 Q204.26 404.1 207 407.1" stroke-width="1.5"/>
<line x1="192.5" y1="430.7" x2="207.1" y2="430.7" stroke-width="1.3"/>
<line x1="195.6" y1="434.1" x2="204" y2="434.1" stroke-width="1.4"/>
<line x1="198.5" y1="437.5" x2="201.1" y2="437.5" stroke-width="1.4"/>
<line x1="240.8" y1="353" x2="240.8" y2="375.6"/>
<circle cx="240.8" cy="350.7" r="2.7" fill="#fff" stroke-width="1.3"/>
<circle cx="240.8" cy="375.6" r="1.9" fill="#151515" stroke="none"/>
<line x1="240.8" y1="375.6" x2="240.8" y2="399.9"/>
<line x1="240.8" y1="404.1" x2="240.8" y2="430.7"/>
<line x1="233.6" y1="399.9" x2="248" y2="399.9" stroke-width="1.5"/>
<path d="M233.6 407.1 Q236.34 404.1 240.8 404.1 Q245.26 404.1 248 407.1" stroke-width="1.5"/>
<line x1="233.5" y1="430.7" x2="248.1" y2="430.7" stroke-width="1.3"/>
<line x1="236.6" y1="434.1" x2="245" y2="434.1" stroke-width="1.4"/>
<line x1="239.5" y1="437.5" x2="242.1" y2="437.5" stroke-width="1.4"/>
<text font-size="5.5" transform="translate(194.6 363.2) rotate(-90)">T1OSCI</text>
<text font-size="5.5" transform="translate(250.1 363.2) rotate(-90)">T1OSCO</text>
<text x="210.8" y="403.4" font-size="8.3" class="r">C14</text>
<text x="210.8" y="410.8" font-size="5.5">22pF</text>
<text x="251.8" y="403.4" font-size="8.3" class="r">C15</text>
<text x="251.8" y="410.8" font-size="5.5">22pF</text>
<line x1="165.7" y1="375.6" x2="165.7" y2="394.4"/>
<line x1="165.7" y1="405" x2="165.7" y2="432.2"/>
<circle cx="165.7" cy="396.3" r="1.9" fill="#fff" stroke-width="1.3"/>
<circle cx="165.7" cy="403.2" r="1.9" fill="#fff" stroke-width="1.3"/>
<circle cx="165.7" cy="434.8" r="2.7" fill="#fff" stroke-width="1.3"/>
<text x="165.7" y="443" font-size="5.5" text-anchor="middle">RC1</text>
<text font-size="9.2" textLength="14.6" lengthAdjust="spacingAndGlyphs" class="h" transform="translate(179.2 409.9) rotate(-90)">JP7</text>
<line x1="275.2" y1="375.6" x2="275.2" y2="394.4"/>
<line x1="275.2" y1="405" x2="275.2" y2="432.2"/>
<circle cx="275.2" cy="396.3" r="1.9" fill="#fff" stroke-width="1.3"/>
<circle cx="275.2" cy="403.2" r="1.9" fill="#fff" stroke-width="1.3"/>
<circle cx="275.2" cy="434.8" r="2.7" fill="#fff" stroke-width="1.3"/>
<text x="275.2" y="443" font-size="5.5" text-anchor="middle">RA7</text>
<text font-size="9.2" textLength="14.6" lengthAdjust="spacingAndGlyphs" class="h" transform="translate(288.7 409.9) rotate(-90)">JP8</text>
<line x1="322.9" y1="395.9" x2="425.6" y2="395.9"/>
<line x1="322.9" y1="437" x2="425.6" y2="437"/>
<line x1="322.9" y1="395.9" x2="322.9" y2="413.1"/>
<line x1="322.9" y1="417.3" x2="322.9" y2="437"/>
<line x1="315.7" y1="413.1" x2="330.1" y2="413.1" stroke-width="1.5"/>
<path d="M315.7 420.3 Q318.44 417.3 322.9 417.3 Q327.36 417.3 330.1 420.3" stroke-width="1.5"/>
<text x="334.1" y="417.2" font-size="8.3" class="r">C1</text>
<text x="334.1" y="424.4" font-size="5.5">0.1u</text>
<line x1="357.3" y1="395.9" x2="357.3" y2="413.1"/>
<line x1="357.3" y1="417.3" x2="357.3" y2="437"/>
<line x1="350.1" y1="413.1" x2="364.5" y2="413.1" stroke-width="1.5"/>
<path d="M350.1 420.3 Q352.84 417.3 357.3 417.3 Q361.76 417.3 364.5 420.3" stroke-width="1.5"/>
<text x="368.5" y="417.2" font-size="8.3" class="r">C2</text>
<text x="368.5" y="424.4" font-size="5.5">0.1u</text>
<line x1="391.6" y1="395.9" x2="391.6" y2="413.1"/>
<line x1="391.6" y1="417.3" x2="391.6" y2="437"/>
<line x1="384.4" y1="413.1" x2="398.8" y2="413.1" stroke-width="1.5"/>
<path d="M384.4 420.3 Q387.14 417.3 391.6 417.3 Q396.06 417.3 398.8 420.3" stroke-width="1.5"/>
<text x="402.8" y="417.2" font-size="8.3" class="r">C3</text>
<text x="402.8" y="424.4" font-size="5.5">0.1u</text>
<line x1="425.6" y1="395.9" x2="425.6" y2="413.1"/>
<line x1="425.6" y1="417.3" x2="425.6" y2="437"/>
<line x1="418.4" y1="413.1" x2="432.8" y2="413.1" stroke-width="1.5"/>
<path d="M418.4 420.3 Q421.14 417.3 425.6 417.3 Q430.06 417.3 432.8 420.3" stroke-width="1.5"/>
<text x="436.8" y="417.2" font-size="8.3" class="r">C4</text>
<text x="436.8" y="424.4" font-size="5.5">0.1u</text>
<circle cx="357.3" cy="395.9" r="1.9" fill="#151515" stroke="none"/>
<circle cx="391.6" cy="395.9" r="1.9" fill="#151515" stroke="none"/>
<circle cx="425.6" cy="395.9" r="1.9" fill="#151515" stroke="none"/>
<circle cx="322.9" cy="437" r="1.9" fill="#151515" stroke="none"/>
<circle cx="357.3" cy="437" r="1.9" fill="#151515" stroke="none"/>
<circle cx="391.6" cy="437" r="1.9" fill="#151515" stroke="none"/>
<line x1="425.6" y1="382.2" x2="425.6" y2="395.9"/>
<polygon points="422.2,382.3 429,382.3 425.6,375.7" stroke-width="1.2" fill="#fff"/>
<line x1="425.6" y1="375.7" x2="425.6" y2="382.3" stroke-width="1"/>
<text x="422.3" y="388" font-size="5.5" text-anchor="end">VCC</text>
<line x1="322.9" y1="437" x2="322.9" y2="451"/>
<line x1="315.6" y1="451" x2="330.2" y2="451" stroke-width="1.3"/>
<line x1="318.7" y1="454.4" x2="327.1" y2="454.4" stroke-width="1.4"/>
<line x1="321.6" y1="457.8" x2="324.2" y2="457.8" stroke-width="1.4"/>
<circle cx="357.1" cy="200" r="2.7" fill="#fff" stroke-width="1.3"/>
<line x1="357.1" y1="202.5" x2="357.1" y2="250.4"/>
<text font-size="5.5" transform="translate(359 193.6) rotate(-90)">OSC1</text>
<circle cx="398.4" cy="200" r="2.7" fill="#fff" stroke-width="1.3"/>
<line x1="398.4" y1="202.5" x2="398.4" y2="250.4"/>
<text font-size="5.5" transform="translate(400.3 193.6) rotate(-90)">OSC2</text>
<line x1="357.1" y1="217.7" x2="480" y2="217.7"/>
<circle cx="357.1" cy="217.7" r="1.9" fill="#151515" stroke="none"/>
<circle cx="357.1" cy="231.3" r="1.9" fill="#151515" stroke="none"/>
<circle cx="398.4" cy="231.3" r="1.9" fill="#151515" stroke="none"/>
<polyline points="357.1,231.3 336.6,231.3 336.6,250.4"/>
<polyline points="398.4,231.3 418.7,231.3 418.7,250.4"/>
<circle cx="336.6" cy="252.2" r="1.9" fill="#fff" stroke-width="1.3"/>
<circle cx="336.6" cy="258.9" r="1.9" fill="#fff" stroke-width="1.3"/>
<circle cx="357.1" cy="252.2" r="1.9" fill="#fff" stroke-width="1.3"/>
<circle cx="357.1" cy="258.9" r="1.9" fill="#fff" stroke-width="1.3"/>
<circle cx="398.4" cy="252.2" r="1.9" fill="#fff" stroke-width="1.3"/>
<circle cx="398.4" cy="258.9" r="1.9" fill="#fff" stroke-width="1.3"/>
<circle cx="418.7" cy="252.2" r="1.9" fill="#fff" stroke-width="1.3"/>
<circle cx="418.7" cy="258.9" r="1.9" fill="#fff" stroke-width="1.3"/>
<line x1="336.6" y1="260.7" x2="336.6" y2="287.8"/>
<line x1="418.7" y1="260.7" x2="418.7" y2="287.8"/>
<circle cx="336.6" cy="290.3" r="2.7" fill="#fff" stroke-width="1.3"/>
<circle cx="418.7" cy="290.3" r="2.7" fill="#fff" stroke-width="1.3"/>
<text font-size="5.5" transform="translate(338.5 308.2) rotate(-90)">RA7</text>
<text font-size="5.5" transform="translate(420.6 308.2) rotate(-90)">RA6</text>
<text font-size="9.2" textLength="13.2" lengthAdjust="spacingAndGlyphs" class="h" transform="translate(350.2 265.3) rotate(-90)">JP9</text>
<text font-size="9.2" textLength="16.8" lengthAdjust="spacingAndGlyphs" class="h" transform="translate(370.7 265.3) rotate(-90)">JP11</text>
<text font-size="9.2" textLength="16.8" lengthAdjust="spacingAndGlyphs" class="h" transform="translate(411.6 265.3) rotate(-90)">JP12</text>
<text font-size="9.2" textLength="16.8" lengthAdjust="spacingAndGlyphs" class="h" transform="translate(431.9 265.3) rotate(-90)">JP10</text>
<line x1="357.1" y1="260.7" x2="357.1" y2="337"/>
<line x1="357.1" y1="341.2" x2="357.1" y2="368.7"/>
<line x1="349.9" y1="337" x2="364.3" y2="337" stroke-width="1.5"/>
<path d="M349.9 344.2 Q352.64 341.2 357.1 341.2 Q361.56 341.2 364.3 344.2" stroke-width="1.5"/>
<line x1="349.8" y1="368.7" x2="364.4" y2="368.7" stroke-width="1.3"/>
<line x1="352.9" y1="372.1" x2="361.3" y2="372.1" stroke-width="1.4"/>
<line x1="355.8" y1="375.5" x2="358.4" y2="375.5" stroke-width="1.4"/>
<line x1="398.4" y1="260.7" x2="398.4" y2="337"/>
<line x1="398.4" y1="341.2" x2="398.4" y2="368.7"/>
<line x1="391.2" y1="337" x2="405.6" y2="337" stroke-width="1.5"/>
<path d="M391.2 344.2 Q393.94 341.2 398.4 341.2 Q402.86 341.2 405.6 344.2" stroke-width="1.5"/>
<line x1="391.1" y1="368.7" x2="405.7" y2="368.7" stroke-width="1.3"/>
<line x1="394.2" y1="372.1" x2="402.6" y2="372.1" stroke-width="1.4"/>
<line x1="397.1" y1="375.5" x2="399.7" y2="375.5" stroke-width="1.4"/>
<circle cx="357.1" cy="306.7" r="1.9" fill="#151515" stroke="none"/>
<circle cx="398.4" cy="306.7" r="1.9" fill="#151515" stroke="none"/>
<line x1="357.1" y1="306.7" x2="370.7" y2="306.7"/>
<line x1="384.8" y1="306.7" x2="398.4" y2="306.7"/>
<line x1="370.7" y1="296.5" x2="370.7" y2="316.9" stroke-width="1.3"/>
<line x1="384.8" y1="296.5" x2="384.8" y2="316.9" stroke-width="1.3"/>
<rect x="373.6" y="299.8" width="8.3" height="13.8" stroke-width="1.2"/>
<text x="370.5" y="293.8" font-size="8.3" class="r">Y2</text>
<text x="367.8" y="341.3" font-size="8.3" class="r">C16</text>
<text x="367.8" y="349.4" font-size="5.5">22pF</text>
<text x="409" y="341.3" font-size="8.3" class="r">C17</text>
<text x="409" y="349.4" font-size="5.5">22pF</text>
<polygon points="449.3,197.3 456.1,197.3 452.7,190.7" stroke-width="1.2" fill="#fff"/>
<line x1="452.7" y1="190.7" x2="452.7" y2="197.3" stroke-width="1"/>
<text x="452.7" y="185" font-size="5.5" text-anchor="middle">VCC</text>
<line x1="452.7" y1="197.3" x2="452.7" y2="234.9"/>
<line x1="452.7" y1="197.3" x2="452.7" y2="234.9"/>
<line x1="452.7" y1="239.1" x2="452.7" y2="265.3"/>
<line x1="445.5" y1="234.9" x2="459.9" y2="234.9" stroke-width="1.5"/>
<path d="M445.5 242.1 Q448.24 239.1 452.7 239.1 Q457.16 239.1 459.9 242.1" stroke-width="1.5"/>
<line x1="445.4" y1="265.3" x2="460" y2="265.3" stroke-width="1.3"/>
<line x1="448.5" y1="268.7" x2="456.9" y2="268.7" stroke-width="1.4"/>
<line x1="451.4" y1="272.1" x2="454" y2="272.1" stroke-width="1.4"/>
<circle cx="452.7" cy="210.8" r="1.9" fill="#151515" stroke="none"/>
<line x1="452.7" y1="210.8" x2="480" y2="210.8"/>
<rect x="480" y="203.5" width="34.6" height="20.9" stroke-width="1.3"/>
<text x="480" y="201.4" font-size="8.3" class="r">Y3</text>
<text x="483.6" y="212" font-size="5.9">VCC</text>
<text x="483.6" y="219.8" font-size="5.9">OUT</text>
<text x="511.8" y="212" font-size="5.9" text-anchor="end">NC</text>
<text x="511.8" y="219.8" font-size="5.9" text-anchor="end">GND</text>
<text x="480.2" y="230" font-size="5.5">OSC</text>
<text x="471.6" y="209.6" font-size="5" class="n" text-anchor="middle">4</text>
<text x="471.6" y="216.6" font-size="5" class="n" text-anchor="middle">3</text>
<text x="523.4" y="209.6" font-size="5" class="n" text-anchor="middle">1</text>
<text x="523.4" y="216.6" font-size="5" class="n" text-anchor="middle">2</text>
<line x1="515" y1="210.8" x2="529" y2="210.8"/>
<polyline points="515,217.7 535.6,217.7 535.6,231.7"/>
<line x1="528.3" y1="231.7" x2="542.9" y2="231.7" stroke-width="1.3"/>
<line x1="531.4" y1="235.1" x2="539.8" y2="235.1" stroke-width="1.4"/>
<line x1="534.3" y1="238.5" x2="536.9" y2="238.5" stroke-width="1.4"/>
<text x="463.9" y="238.5" font-size="8.3" class="r">C5</text>
<text x="464.2" y="246.2" font-size="5.5">0.1u</text>
<rect x="405.2" y="69.4" width="20.5" height="34.6" stroke-width="1.3"/>
<text x="405.3" y="67.2" font-size="8.6" textLength="12.6" lengthAdjust="spacingAndGlyphs" class="b" font-weight="bold">J14</text>
<circle cx="411.6" cy="76.5" r="1.9" fill="#fff" stroke-width="1.3"/>
<circle cx="419" cy="76.5" r="1.9" fill="#fff" stroke-width="1.3"/>
<text x="397.2" y="75.3" font-size="5" class="n" text-anchor="middle">2</text>
<text x="434.4" y="75.3" font-size="5" class="n" text-anchor="middle">1</text>
<circle cx="411.6" cy="83.45" r="1.9" fill="#fff" stroke-width="1.3"/>
<circle cx="419" cy="83.45" r="1.9" fill="#fff" stroke-width="1.3"/>
<text x="397.2" y="82.25" font-size="5" class="n" text-anchor="middle">4</text>
<text x="434.4" y="82.25" font-size="5" class="n" text-anchor="middle">3</text>
<circle cx="411.6" cy="90.45" r="1.9" fill="#fff" stroke-width="1.3"/>
<circle cx="419" cy="90.45" r="1.9" fill="#fff" stroke-width="1.3"/>
<text x="397.2" y="89.25" font-size="5" class="n" text-anchor="middle">6</text>
<text x="434.4" y="89.25" font-size="5" class="n" text-anchor="middle">5</text>
<circle cx="411.6" cy="97.45" r="1.9" fill="#fff" stroke-width="1.3"/>
<circle cx="419" cy="97.45" r="1.9" fill="#fff" stroke-width="1.3"/>
<text x="397.2" y="96.25" font-size="5" class="n" text-anchor="middle">8</text>
<text x="434.4" y="96.25" font-size="5" class="n" text-anchor="middle">7</text>
<circle cx="366.7" cy="76.5" r="2.7" fill="#fff" stroke-width="1.3"/>
<line x1="369.2" y1="76.5" x2="409.7" y2="76.5"/>
<circle cx="384.6" cy="76.5" r="1.9" fill="#151515" stroke="none"/>
<text x="360.8" y="78.2" font-size="5.5" text-anchor="end">RC3</text>
<circle cx="366.7" cy="97.45" r="2.7" fill="#fff" stroke-width="1.3"/>
<line x1="369.2" y1="97.45" x2="409.7" y2="97.45"/>
<circle cx="384.6" cy="97.45" r="1.9" fill="#151515" stroke="none"/>
<text x="360.8" y="99.15" font-size="5.5" text-anchor="end">RC4</text>
<polyline points="384.6,76.5 384.6,83.45 409.7,83.45"/>
<polyline points="384.6,97.45 384.6,90.45 409.7,90.45"/>
<polyline points="420.9,76.5 446.4,76.5 446.4,42.4 466.2,42.4"/>
<polyline points="420.9,97.45 446.4,97.45 446.4,131.4 466.2,131.4"/>
<polyline points="420.9,83.45 452.6,83.45 452.6,63.7 466.4,63.7 466.4,80.3"/>
<polyline points="420.9,90.45 452.6,90.45 452.6,104.1 466.4,104.1 466.4,84.6"/>
<line x1="459.2" y1="80.3" x2="473.6" y2="80.3" stroke-width="1.5"/>
<path d="M459.2 87.5 Q461.94 84.5 466.4 84.5 Q470.86 84.5 473.6 87.5" stroke-width="1.5"/>
<text x="477.8" y="84" font-size="8.3" class="r">C7</text>
<text x="478" y="91.4" font-size="5.5">TBD</text>
<polygon points="466.4,35.8 466.4,49 473.4,42.4" stroke-width="1.2"/>
<line x1="473.6" y1="35.6" x2="473.6" y2="49.2" stroke-width="1.3"/>
<line x1="469.9" y1="31.8" x2="476" y2="25.7" stroke-width="1.3"/>
<polygon points="472.6,25.9 476.3,25.4 475.8,29.1" stroke-width="1.2" fill="#151515"/>
<line x1="470.1" y1="35" x2="477.5" y2="27.6" stroke-width="1.3"/>
<polygon points="474.1,27.8 477.8,27.3 477.3,31" stroke-width="1.2" fill="#151515"/>
<line x1="473.8" y1="42.4" x2="494.1" y2="42.4"/>
<polyline points="494.1,42.4 495.86,39.35 499.38,45.45 502.89,39.35 506.41,45.45 509.92,39.35 513.44,45.45 515.2,42.4" stroke-width="1.3"/>
<line x1="515.2" y1="42.4" x2="528.4" y2="42.4"/>
<text x="466.4" y="22.6" font-size="8.3" class="r">D1</text>
<text x="494.2" y="36.2" font-size="8.3" class="r">R5</text>
<text x="494.2" y="51.2" font-size="5.5">470</text>
<polygon points="466.4,124.8 466.4,138 473.4,131.4" stroke-width="1.2"/>
<line x1="473.6" y1="124.6" x2="473.6" y2="138.2" stroke-width="1.3"/>
<line x1="469.9" y1="120.8" x2="476" y2="114.7" stroke-width="1.3"/>
<polygon points="472.6,114.9 476.3,114.4 475.8,118.1" stroke-width="1.2" fill="#151515"/>
<line x1="470.1" y1="124" x2="477.5" y2="116.6" stroke-width="1.3"/>
<polygon points="474.1,116.8 477.8,116.3 477.3,120" stroke-width="1.2" fill="#151515"/>
<line x1="473.8" y1="131.4" x2="494.1" y2="131.4"/>
<polyline points="494.1,131.4 495.86,128.35 499.38,134.45 502.89,128.35 506.41,134.45 509.92,128.35 513.44,134.45 515.2,131.4" stroke-width="1.3"/>
<line x1="515.2" y1="131.4" x2="528.4" y2="131.4"/>
<text x="466.4" y="111.6" font-size="8.3" class="r">D2</text>
<text x="494.2" y="125.2" font-size="8.3" class="r">R6</text>
<text x="494.2" y="140.2" font-size="5.5">470</text>
<line x1="528.4" y1="42.4" x2="528.4" y2="152.5"/>
<circle cx="528.4" cy="131.4" r="1.9" fill="#151515" stroke="none"/>
<line x1="521.1" y1="152.5" x2="535.7" y2="152.5" stroke-width="1.3"/>
<line x1="524.2" y1="155.9" x2="532.6" y2="155.9" stroke-width="1.4"/>
<line x1="527.1" y1="159.3" x2="529.7" y2="159.3" stroke-width="1.4"/>
<circle cx="594.7" cy="48.4" r="2.7" fill="#fff" stroke-width="1.3"/>
<circle cx="686.3" cy="48.4" r="2.7" fill="#fff" stroke-width="1.3"/>
<line x1="597.2" y1="48.4" x2="634.2" y2="48.4"/>
<line x1="647.8" y1="48.4" x2="683.8" y2="48.4"/>
<line x1="634.2" y1="38.2" x2="634.2" y2="58.6" stroke-width="1.3"/>
<line x1="647.8" y1="38.2" x2="647.8" y2="58.6" stroke-width="1.3"/>
<rect x="637.1" y="41.5" width="7.8" height="13.8" stroke-width="1.2"/>
<text x="588.4" y="50.1" font-size="5.5" text-anchor="end">OSC1</text>
<text x="693" y="50.1" font-size="5.5">OSC2</text>
<text x="633.4" y="35.3" font-size="8.3" class="r">X1</text>
<text x="633.6" y="64.8" font-size="5.5">8MHz</text>
<circle cx="613" cy="48.4" r="1.9" fill="#151515" stroke="none"/>
<line x1="613" y1="48.4" x2="613" y2="65.7"/>
<line x1="613" y1="69.9" x2="613" y2="97.5"/>
<line x1="605.8" y1="65.7" x2="620.2" y2="65.7" stroke-width="1.5"/>
<path d="M605.8 72.9 Q608.54 69.9 613 69.9 Q617.46 69.9 620.2 72.9" stroke-width="1.5"/>
<line x1="605.7" y1="97.5" x2="620.3" y2="97.5" stroke-width="1.3"/>
<line x1="608.8" y1="100.9" x2="617.2" y2="100.9" stroke-width="1.4"/>
<line x1="611.7" y1="104.3" x2="614.3" y2="104.3" stroke-width="1.4"/>
<circle cx="668.3" cy="48.4" r="1.9" fill="#151515" stroke="none"/>
<line x1="668.3" y1="48.4" x2="668.3" y2="65.7"/>
<line x1="668.3" y1="69.9" x2="668.3" y2="97.5"/>
<line x1="661.1" y1="65.7" x2="675.5" y2="65.7" stroke-width="1.5"/>
<path d="M661.1 72.9 Q663.84 69.9 668.3 69.9 Q672.76 69.9 675.5 72.9" stroke-width="1.5"/>
<line x1="661" y1="97.5" x2="675.6" y2="97.5" stroke-width="1.3"/>
<line x1="664.1" y1="100.9" x2="672.5" y2="100.9" stroke-width="1.4"/>
<line x1="667" y1="104.3" x2="669.6" y2="104.3" stroke-width="1.4"/>
<text x="589.4" y="69.8" font-size="8.3" class="r">C2</text>
<text x="589.6" y="77.4" font-size="5.5">22pF</text>
<text x="679.8" y="69.8" font-size="8.3" class="r">C3</text>
<text x="680" y="77.4" font-size="5.5">22pF</text>
<line x1="765.3" y1="50" x2="961.02" y2="50" stroke-width="1.6"/>
<line x1="765.3" y1="36.4" x2="765.3" y2="50"/>
<polygon points="761.8,36.5 768.8,36.5 765.3,29.3" stroke-width="1.2" fill="#fff"/>
<line x1="765.3" y1="29.3" x2="765.3" y2="36.5" stroke-width="1"/>
<circle cx="765.3" cy="50" r="1.9" fill="#151515" stroke="none"/>
<line x1="765.3" y1="50" x2="765.3" y2="64.5"/>
<polyline points="765.3,64.5 768.35,66.2 762.25,69.6 768.35,73 762.25,76.4 768.35,79.8 762.25,83.2 765.3,84.9" stroke-width="1.3"/>
<line x1="765.3" y1="84.9" x2="765.3" y2="161.5"/>
<circle cx="765.3" cy="119.8" r="8.3" stroke-width="1.3"/>
<polygon points="761.4,117.9 769.2,117.9 765.3,122.9" stroke-width="1.2"/>
<line x1="761.4" y1="123.1" x2="769.2" y2="123.1" stroke-width="1.3"/>
<line x1="765.3" y1="111.5" x2="765.3" y2="128.1"/>
<text x="772.9" y="71.6" font-size="8.3" class="r">R1</text>
<text x="773.5" y="79.2" font-size="5.5">220</text>
<text x="771.3" y="105.3" font-size="8.3" class="r">D1</text>
<text font-size="5.5" transform="translate(763.9 148) rotate(-90)">LED0</text>
<circle cx="793.16" cy="50" r="1.9" fill="#151515" stroke="none"/>
<line x1="793.16" y1="50" x2="793.16" y2="64.5"/>
<polyline points="793.16,64.5 796.21,66.2 790.11,69.6 796.21,73 790.11,76.4 796.21,79.8 790.11,83.2 793.16,84.9" stroke-width="1.3"/>
<line x1="793.16" y1="84.9" x2="793.16" y2="161.5"/>
<circle cx="793.16" cy="119.8" r="8.3" stroke-width="1.3"/>
<polygon points="789.26,117.9 797.06,117.9 793.16,122.9" stroke-width="1.2"/>
<line x1="789.26" y1="123.1" x2="797.06" y2="123.1" stroke-width="1.3"/>
<line x1="793.16" y1="111.5" x2="793.16" y2="128.1"/>
<text x="800.76" y="71.6" font-size="8.3" class="r">R2</text>
<text x="801.36" y="79.2" font-size="5.5">220</text>
<text x="799.16" y="105.3" font-size="8.3" class="r">D2</text>
<text font-size="5.5" transform="translate(791.76 148) rotate(-90)">LED1</text>
<circle cx="821.02" cy="50" r="1.9" fill="#151515" stroke="none"/>
<line x1="821.02" y1="50" x2="821.02" y2="64.5"/>
<polyline points="821.02,64.5 824.07,66.2 817.97,69.6 824.07,73 817.97,76.4 824.07,79.8 817.97,83.2 821.02,84.9" stroke-width="1.3"/>
<line x1="821.02" y1="84.9" x2="821.02" y2="161.5"/>
<circle cx="821.02" cy="119.8" r="8.3" stroke-width="1.3"/>
<polygon points="817.12,117.9 824.92,117.9 821.02,122.9" stroke-width="1.2"/>
<line x1="817.12" y1="123.1" x2="824.92" y2="123.1" stroke-width="1.3"/>
<line x1="821.02" y1="111.5" x2="821.02" y2="128.1"/>
<text x="828.62" y="71.6" font-size="8.3" class="r">R3</text>
<text x="829.22" y="79.2" font-size="5.5">220</text>
<text x="827.02" y="105.3" font-size="8.3" class="r">D3</text>
<text font-size="5.5" transform="translate(819.62 148) rotate(-90)">LED2</text>
<circle cx="848.88" cy="50" r="1.9" fill="#151515" stroke="none"/>
<line x1="848.88" y1="50" x2="848.88" y2="64.5"/>
<polyline points="848.88,64.5 851.93,66.2 845.83,69.6 851.93,73 845.83,76.4 851.93,79.8 845.83,83.2 848.88,84.9" stroke-width="1.3"/>
<line x1="848.88" y1="84.9" x2="848.88" y2="161.5"/>
<circle cx="848.88" cy="119.8" r="8.3" stroke-width="1.3"/>
<polygon points="844.98,117.9 852.78,117.9 848.88,122.9" stroke-width="1.2"/>
<line x1="844.98" y1="123.1" x2="852.78" y2="123.1" stroke-width="1.3"/>
<line x1="848.88" y1="111.5" x2="848.88" y2="128.1"/>
<text x="856.48" y="71.6" font-size="8.3" class="r">R4</text>
<text x="857.08" y="79.2" font-size="5.5">220</text>
<text x="854.88" y="105.3" font-size="8.3" class="r">D4</text>
<text font-size="5.5" transform="translate(847.48 148) rotate(-90)">LED3</text>
<circle cx="876.74" cy="50" r="1.9" fill="#151515" stroke="none"/>
<line x1="876.74" y1="50" x2="876.74" y2="64.5"/>
<polyline points="876.74,64.5 879.79,66.2 873.69,69.6 879.79,73 873.69,76.4 879.79,79.8 873.69,83.2 876.74,84.9" stroke-width="1.3"/>
<line x1="876.74" y1="84.9" x2="876.74" y2="161.5"/>
<circle cx="876.74" cy="119.8" r="8.3" stroke-width="1.3"/>
<polygon points="872.84,117.9 880.64,117.9 876.74,122.9" stroke-width="1.2"/>
<line x1="872.84" y1="123.1" x2="880.64" y2="123.1" stroke-width="1.3"/>
<line x1="876.74" y1="111.5" x2="876.74" y2="128.1"/>
<text x="884.34" y="71.6" font-size="8.3" class="r">R5</text>
<text x="884.94" y="79.2" font-size="5.5">220</text>
<text x="882.74" y="105.3" font-size="8.3" class="r">D5</text>
<text font-size="5.5" transform="translate(875.34 148) rotate(-90)">LED4</text>
<circle cx="904.6" cy="50" r="1.9" fill="#151515" stroke="none"/>
<line x1="904.6" y1="50" x2="904.6" y2="64.5"/>
<polyline points="904.6,64.5 907.65,66.2 901.55,69.6 907.65,73 901.55,76.4 907.65,79.8 901.55,83.2 904.6,84.9" stroke-width="1.3"/>
<line x1="904.6" y1="84.9" x2="904.6" y2="161.5"/>
<circle cx="904.6" cy="119.8" r="8.3" stroke-width="1.3"/>
<polygon points="900.7,117.9 908.5,117.9 904.6,122.9" stroke-width="1.2"/>
<line x1="900.7" y1="123.1" x2="908.5" y2="123.1" stroke-width="1.3"/>
<line x1="904.6" y1="111.5" x2="904.6" y2="128.1"/>
<text x="912.2" y="71.6" font-size="8.3" class="r">R6</text>
<text x="912.8" y="79.2" font-size="5.5">220</text>
<text x="910.6" y="105.3" font-size="8.3" class="r">D6</text>
<text font-size="5.5" transform="translate(903.2 148) rotate(-90)">LED5</text>
<circle cx="932.46" cy="50" r="1.9" fill="#151515" stroke="none"/>
<line x1="932.46" y1="50" x2="932.46" y2="64.5"/>
<polyline points="932.46,64.5 935.51,66.2 929.41,69.6 935.51,73 929.41,76.4 935.51,79.8 929.41,83.2 932.46,84.9" stroke-width="1.3"/>
<line x1="932.46" y1="84.9" x2="932.46" y2="161.5"/>
<circle cx="932.46" cy="119.8" r="8.3" stroke-width="1.3"/>
<polygon points="928.56,117.9 936.36,117.9 932.46,122.9" stroke-width="1.2"/>
<line x1="928.56" y1="123.1" x2="936.36" y2="123.1" stroke-width="1.3"/>
<line x1="932.46" y1="111.5" x2="932.46" y2="128.1"/>
<text x="940.06" y="71.6" font-size="8.3" class="r">R7</text>
<text x="940.66" y="79.2" font-size="5.5">220</text>
<text x="938.46" y="105.3" font-size="8.3" class="r">D7</text>
<text font-size="5.5" transform="translate(931.06 148) rotate(-90)">LED6</text>
<line x1="960.32" y1="50" x2="960.32" y2="64.5"/>
<polyline points="960.32,64.5 963.37,66.2 957.27,69.6 963.37,73 957.27,76.4 963.37,79.8 957.27,83.2 960.32,84.9" stroke-width="1.3"/>
<line x1="960.32" y1="84.9" x2="960.32" y2="161.5"/>
<circle cx="960.32" cy="119.8" r="8.3" stroke-width="1.3"/>
<polygon points="956.42,117.9 964.22,117.9 960.32,122.9" stroke-width="1.2"/>
<line x1="956.42" y1="123.1" x2="964.22" y2="123.1" stroke-width="1.3"/>
<line x1="960.32" y1="111.5" x2="960.32" y2="128.1"/>
<text x="967.92" y="71.6" font-size="8.3" class="r">R8</text>
<text x="968.52" y="79.2" font-size="5.5">220</text>
<text x="973.32" y="119.2" font-size="8.3" class="r">D8</text>
<text font-size="5.5" transform="translate(958.92 148) rotate(-90)">LED7</text>
<line x1="764.7" y1="161.6" x2="961.92" y2="161.6" stroke-width="3.7"/>
<line x1="884.2" y1="161.6" x2="884.2" y2="225.3" stroke-width="3.7"/>
<rect x="640.2" y="175.4" width="41.7" height="83.8" stroke-width="1.3"/>
<text x="640" y="172.9" font-size="8.8" textLength="10.3" lengthAdjust="spacingAndGlyphs" class="b" font-weight="bold">U2</text>
<text x="640.4" y="264.8" font-size="5.5">74LS373</text>
<polyline points="591.1,226 591.1,154.6 730.6,154.6 730.6,225.5" stroke-width="3.7"/>
<polyline points="592.6,176.9 598.2,182.5 640.2,182.5"/>
<text x="619.5" y="181.2" font-size="5.8">D0</text>
<text x="636.8" y="181.6" font-size="5" class="n" text-anchor="end">3</text>
<text x="643.8" y="184.3" font-size="5.8">D0</text>
<text x="678.9" y="184.3" font-size="5.8" text-anchor="end">Q0</text>
<text x="691.2" y="181.3" font-size="5.6" text-anchor="middle">2</text>
<polyline points="681.9,182.5 716.8,182.5 716.8,259.2 772.5,259.2"/>
<polyline points="592.6,183.92 598.2,189.52 640.2,189.52"/>
<text x="619.5" y="188.22" font-size="5.8">D1</text>
<text x="636.8" y="188.62" font-size="5" class="n" text-anchor="end">4</text>
<text x="643.8" y="191.32" font-size="5.8">D1</text>
<text x="678.9" y="191.32" font-size="5.8" text-anchor="end">Q1</text>
<text x="691.2" y="188.32" font-size="5.6" text-anchor="middle">5</text>
<polyline points="681.9,189.52 709.6,189.52 709.6,266.3 772.5,266.3"/>
<polyline points="592.6,190.94 598.2,196.54 640.2,196.54"/>
<text x="619.5" y="195.24" font-size="5.8">D2</text>
<text x="636.8" y="195.64" font-size="5" class="n" text-anchor="end">7</text>
<text x="643.8" y="198.34" font-size="5.8">D2</text>
<text x="678.9" y="198.34" font-size="5.8" text-anchor="end">Q2</text>
<text x="691.2" y="195.34" font-size="5.6" text-anchor="middle">6</text>
<line x1="681.9" y1="196.54" x2="696.2" y2="196.54"/>
<polyline points="592.6,197.96 598.2,203.56 640.2,203.56"/>
<text x="619.5" y="202.26" font-size="5.8">D3</text>
<text x="636.8" y="202.66" font-size="5" class="n" text-anchor="end">8</text>
<text x="643.8" y="205.36" font-size="5.8">D3</text>
<text x="678.9" y="205.36" font-size="5.8" text-anchor="end">Q3</text>
<text x="691.2" y="202.36" font-size="5.6" text-anchor="middle">9</text>
<line x1="681.9" y1="203.56" x2="696.2" y2="203.56"/>
<polyline points="592.6,204.98 598.2,210.58 640.2,210.58"/>
<text x="619.5" y="209.28" font-size="5.8">D4</text>
<text x="636.8" y="209.68" font-size="5" class="n" text-anchor="end">13</text>
<text x="643.8" y="212.38" font-size="5.8">D4</text>
<text x="678.9" y="212.38" font-size="5.8" text-anchor="end">Q4</text>
<text x="691.2" y="209.38" font-size="5.6" text-anchor="middle">12</text>
<line x1="681.9" y1="210.58" x2="696.2" y2="210.58"/>
<polyline points="592.6,212 598.2,217.6 640.2,217.6"/>
<text x="619.5" y="216.3" font-size="5.8">D5</text>
<text x="636.8" y="216.7" font-size="5" class="n" text-anchor="end">14</text>
<text x="643.8" y="219.4" font-size="5.8">D5</text>
<text x="678.9" y="219.4" font-size="5.8" text-anchor="end">Q5</text>
<text x="691.2" y="216.4" font-size="5.6" text-anchor="middle">15</text>
<line x1="681.9" y1="217.6" x2="696.2" y2="217.6"/>
<polyline points="592.6,219.02 598.2,224.62 640.2,224.62"/>
<text x="619.5" y="223.32" font-size="5.8">D6</text>
<text x="636.8" y="223.72" font-size="5" class="n" text-anchor="end">17</text>
<text x="643.8" y="226.42" font-size="5.8">D6</text>
<text x="678.9" y="226.42" font-size="5.8" text-anchor="end">Q6</text>
<text x="691.2" y="223.42" font-size="5.6" text-anchor="middle">16</text>
<line x1="681.9" y1="224.62" x2="696.2" y2="224.62"/>
<polyline points="592.6,226.04 598.2,231.64 640.2,231.64"/>
<text x="619.5" y="230.34" font-size="5.8">D7</text>
<text x="636.8" y="230.74" font-size="5" class="n" text-anchor="end">18</text>
<text x="643.8" y="233.44" font-size="5.8">D7</text>
<text x="678.9" y="233.44" font-size="5.8" text-anchor="end">Q7</text>
<text x="691.2" y="230.44" font-size="5.6" text-anchor="middle">19</text>
<line x1="681.9" y1="231.64" x2="696.2" y2="231.64"/>
<text x="643.8" y="247.2" font-size="5.8">OE</text>
<line x1="643.8" y1="242.5" x2="652.4" y2="242.5" stroke-width="0.6"/>
<text x="643.8" y="254.3" font-size="5.8">LE</text>
<polyline points="640.2,245.4 619.1,245.4 619.1,266.3"/>
<line x1="611.8" y1="266.3" x2="626.4" y2="266.3" stroke-width="1.3"/>
<line x1="614.9" y1="269.7" x2="623.3" y2="269.7" stroke-width="1.4"/>
<line x1="617.8" y1="273.1" x2="620.4" y2="273.1" stroke-width="1.4"/>
<line x1="602.2" y1="252.5" x2="640.2" y2="252.5"/>
<circle cx="599.7" cy="252.5" r="2.7" fill="#fff" stroke-width="1.3"/>
<text x="605.3" y="250.6" font-size="5.8">LE</text>
<text x="631.7" y="244.2" font-size="5" class="n" text-anchor="middle">1</text>
<text x="630.2" y="251.3" font-size="5" class="n" text-anchor="middle">11</text>
<rect x="772.5" y="175.4" width="69.5" height="195.9" stroke-width="1.3"/>
<text x="772.1" y="172.8" font-size="8.8" textLength="9.7" lengthAdjust="spacingAndGlyphs" class="b" font-weight="bold">U1</text>
<text x="772.7" y="376.4" font-size="5.5">8255A</text>
<polyline points="732.2,176.9 737.8,182.5 772.5,182.5"/>
<text x="744.6" y="181.2" font-size="5.8">D0</text>
<text x="762.4" y="181.3" font-size="5.4" class="n" text-anchor="middle">34</text>
<text x="776.1" y="184.3" font-size="5.8">D0</text>
<text x="838.4" y="184.3" font-size="5.8" text-anchor="end">PA0</text>
<polyline points="842,182.5 877.4,182.5 882.8,177.1"/>
<text x="850.6" y="181.3" font-size="5.4" class="n" text-anchor="middle">4</text>
<text x="862.9" y="181.3" font-size="5.8">LED0</text>
<polyline points="732.2,183.92 737.8,189.52 772.5,189.52"/>
<text x="744.6" y="188.22" font-size="5.8">D1</text>
<text x="762.4" y="188.32" font-size="5.4" class="n" text-anchor="middle">33</text>
<text x="776.1" y="191.32" font-size="5.8">D1</text>
<text x="838.4" y="191.32" font-size="5.8" text-anchor="end">PA1</text>
<polyline points="842,189.52 877.4,189.52 882.8,184.12"/>
<text x="850.6" y="188.32" font-size="5.4" class="n" text-anchor="middle">3</text>
<text x="862.9" y="188.32" font-size="5.8">LED1</text>
<polyline points="732.2,190.94 737.8,196.54 772.5,196.54"/>
<text x="744.6" y="195.24" font-size="5.8">D2</text>
<text x="762.4" y="195.34" font-size="5.4" class="n" text-anchor="middle">32</text>
<text x="776.1" y="198.34" font-size="5.8">D2</text>
<text x="838.4" y="198.34" font-size="5.8" text-anchor="end">PA2</text>
<polyline points="842,196.54 877.4,196.54 882.8,191.14"/>
<text x="850.6" y="195.34" font-size="5.4" class="n" text-anchor="middle">2</text>
<text x="862.9" y="195.34" font-size="5.8">LED2</text>
<polyline points="732.2,197.96 737.8,203.56 772.5,203.56"/>
<text x="744.6" y="202.26" font-size="5.8">D3</text>
<text x="762.4" y="202.36" font-size="5.4" class="n" text-anchor="middle">31</text>
<text x="776.1" y="205.36" font-size="5.8">D3</text>
<text x="838.4" y="205.36" font-size="5.8" text-anchor="end">PA3</text>
<polyline points="842,203.56 877.4,203.56 882.8,198.16"/>
<text x="850.6" y="202.36" font-size="5.4" class="n" text-anchor="middle">1</text>
<text x="862.9" y="202.36" font-size="5.8">LED3</text>
<polyline points="732.2,204.98 737.8,210.58 772.5,210.58"/>
<text x="744.6" y="209.28" font-size="5.8">D4</text>
<text x="762.4" y="209.38" font-size="5.4" class="n" text-anchor="middle">30</text>
<text x="776.1" y="212.38" font-size="5.8">D4</text>
<text x="838.4" y="212.38" font-size="5.8" text-anchor="end">PA4</text>
<polyline points="842,210.58 877.4,210.58 882.8,205.18"/>
<text x="850.6" y="209.38" font-size="5.4" class="n" text-anchor="middle">40</text>
<text x="862.9" y="209.38" font-size="5.8">LED4</text>
<polyline points="732.2,212 737.8,217.6 772.5,217.6"/>
<text x="744.6" y="216.3" font-size="5.8">D5</text>
<text x="762.4" y="216.4" font-size="5.4" class="n" text-anchor="middle">29</text>
<text x="776.1" y="219.4" font-size="5.8">D5</text>
<text x="838.4" y="219.4" font-size="5.8" text-anchor="end">PA5</text>
<polyline points="842,217.6 877.4,217.6 882.8,212.2"/>
<text x="850.6" y="216.4" font-size="5.4" class="n" text-anchor="middle">39</text>
<text x="862.9" y="216.4" font-size="5.8">LED5</text>
<polyline points="732.2,219.02 737.8,224.62 772.5,224.62"/>
<text x="744.6" y="223.32" font-size="5.8">D6</text>
<text x="762.4" y="223.42" font-size="5.4" class="n" text-anchor="middle">28</text>
<text x="776.1" y="226.42" font-size="5.8">D6</text>
<text x="838.4" y="226.42" font-size="5.8" text-anchor="end">PA6</text>
<polyline points="842,224.62 877.4,224.62 882.8,219.22"/>
<text x="850.6" y="223.42" font-size="5.4" class="n" text-anchor="middle">38</text>
<text x="862.9" y="223.42" font-size="5.8">LED6</text>
<polyline points="732.2,226.04 737.8,231.64 772.5,231.64"/>
<text x="744.6" y="230.34" font-size="5.8">D7</text>
<text x="762.4" y="230.44" font-size="5.4" class="n" text-anchor="middle">27</text>
<text x="776.1" y="233.44" font-size="5.8">D7</text>
<text x="838.4" y="233.44" font-size="5.8" text-anchor="end">PA7</text>
<polyline points="842,231.64 877.4,231.64 882.8,226.24"/>
<text x="850.6" y="230.44" font-size="5.4" class="n" text-anchor="middle">37</text>
<text x="862.9" y="230.44" font-size="5.8">LED7</text>
<text x="776.1" y="247.2" font-size="5.8">RD</text>
<line x1="776.1" y1="242.5" x2="784.5" y2="242.5" stroke-width="0.6"/>
<text x="763.4" y="244.2" font-size="5.4" class="n" text-anchor="middle">5</text>
<line x1="742.6" y1="245.4" x2="772.5" y2="245.4"/>
<circle cx="740.1" cy="245.4" r="2.7" fill="#fff" stroke-width="1.3"/>
<text x="734" y="247.2" font-size="5.8" text-anchor="end">RD</text>
<line x1="725.6" y1="242.5" x2="734" y2="242.5" stroke-width="0.6"/>
<text x="776.1" y="254.3" font-size="5.8">WR</text>
<line x1="776.1" y1="249.6" x2="784.5" y2="249.6" stroke-width="0.6"/>
<text x="763.4" y="251.3" font-size="5.4" class="n" text-anchor="middle">36</text>
<line x1="742.6" y1="252.5" x2="772.5" y2="252.5"/>
<circle cx="740.1" cy="252.5" r="2.7" fill="#fff" stroke-width="1.3"/>
<text x="734" y="254.3" font-size="5.8" text-anchor="end">WR</text>
<line x1="725.6" y1="249.6" x2="734" y2="249.6" stroke-width="0.6"/>
<text x="776.1" y="261" font-size="5.8">A0</text>
<text x="763.4" y="258" font-size="5.4" class="n" text-anchor="middle">9</text>
<text x="776.1" y="268.1" font-size="5.8">A1</text>
<text x="763.4" y="265.1" font-size="5.4" class="n" text-anchor="middle">8</text>
<text x="776.1" y="275.4" font-size="5.8">RESET</text>
<text x="763.4" y="272.4" font-size="5.4" class="n" text-anchor="middle">35</text>
<line x1="742.6" y1="273.6" x2="772.5" y2="273.6"/>
<circle cx="740.1" cy="273.6" r="2.7" fill="#fff" stroke-width="1.3"/>
<text x="734" y="275.4" font-size="5.8" text-anchor="end">RST</text>
<text x="776.1" y="289.1" font-size="5.8">CS</text>
<line x1="776.1" y1="284.4" x2="784.5" y2="284.4" stroke-width="0.6"/>
<text x="763.4" y="286.1" font-size="5.4" class="n" text-anchor="middle">6</text>
<line x1="742.6" y1="287.3" x2="772.5" y2="287.3"/>
<circle cx="740.1" cy="287.3" r="2.7" fill="#fff" stroke-width="1.3"/>
<text x="734" y="289.1" font-size="5.8" text-anchor="end">CS</text>
<line x1="725.6" y1="284.4" x2="734" y2="284.4" stroke-width="0.6"/>
<text x="838.4" y="247.3" font-size="5.8" text-anchor="end">PB0</text>
<line x1="842" y1="245.5" x2="896" y2="245.5"/>
<text x="852.2" y="244.3" font-size="5.4" class="n" text-anchor="middle">18</text>
<text x="869.8" y="244.3" font-size="5.8">KEY0</text>
<text x="838.4" y="254.24" font-size="5.8" text-anchor="end">PB1</text>
<line x1="842" y1="252.44" x2="896" y2="252.44"/>
<text x="852.2" y="251.24" font-size="5.4" class="n" text-anchor="middle">19</text>
<text x="869.8" y="251.24" font-size="5.8">KEY1</text>
<text x="838.4" y="261.18" font-size="5.8" text-anchor="end">PB2</text>
<line x1="842" y1="259.38" x2="896" y2="259.38"/>
<text x="852.2" y="258.18" font-size="5.4" class="n" text-anchor="middle">20</text>
<text x="869.8" y="258.18" font-size="5.8">KEY2</text>
<text x="838.4" y="268.12" font-size="5.8" text-anchor="end">PB3</text>
<line x1="842" y1="266.32" x2="896" y2="266.32"/>
<text x="852.2" y="265.12" font-size="5.4" class="n" text-anchor="middle">21</text>
<text x="869.8" y="265.12" font-size="5.8">KEY3</text>
<text x="838.4" y="275.06" font-size="5.8" text-anchor="end">PB4</text>
<line x1="842" y1="273.26" x2="896" y2="273.26"/>
<text x="852.2" y="272.06" font-size="5.4" class="n" text-anchor="middle">22</text>
<text x="869.8" y="272.06" font-size="5.8">KEY4</text>
<text x="838.4" y="282" font-size="5.8" text-anchor="end">PB5</text>
<line x1="842" y1="280.2" x2="896" y2="280.2"/>
<text x="852.2" y="279" font-size="5.4" class="n" text-anchor="middle">23</text>
<text x="869.8" y="279" font-size="5.8">KEY5</text>
<text x="838.4" y="288.94" font-size="5.8" text-anchor="end">PB6</text>
<line x1="842" y1="287.14" x2="896" y2="287.14"/>
<text x="852.2" y="285.94" font-size="5.4" class="n" text-anchor="middle">24</text>
<text x="869.8" y="285.94" font-size="5.8">KEY6</text>
<text x="838.4" y="295.88" font-size="5.8" text-anchor="end">PB7</text>
<line x1="842" y1="294.08" x2="896" y2="294.08"/>
<text x="852.2" y="292.88" font-size="5.4" class="n" text-anchor="middle">25</text>
<text x="869.8" y="292.88" font-size="5.8">KEY7</text>
<text x="838.4" y="309.6" font-size="5.8" text-anchor="end">PC0</text>
<line x1="842" y1="307.8" x2="856.3" y2="307.8"/>
<text x="852.2" y="306.6" font-size="5.4" class="n" text-anchor="middle">14</text>
<text x="838.4" y="316.62" font-size="5.8" text-anchor="end">PC1</text>
<line x1="842" y1="314.82" x2="856.3" y2="314.82"/>
<text x="852.2" y="313.62" font-size="5.4" class="n" text-anchor="middle">15</text>
<text x="838.4" y="323.64" font-size="5.8" text-anchor="end">PC2</text>
<line x1="842" y1="321.84" x2="856.3" y2="321.84"/>
<text x="852.2" y="320.64" font-size="5.4" class="n" text-anchor="middle">16</text>
<text x="838.4" y="330.66" font-size="5.8" text-anchor="end">PC3</text>
<line x1="842" y1="328.86" x2="856.3" y2="328.86"/>
<text x="852.2" y="327.66" font-size="5.4" class="n" text-anchor="middle">17</text>
<text x="838.4" y="337.68" font-size="5.8" text-anchor="end">PC4</text>
<line x1="842" y1="335.88" x2="856.3" y2="335.88"/>
<text x="852.2" y="334.68" font-size="5.4" class="n" text-anchor="middle">13</text>
<text x="838.4" y="344.7" font-size="5.8" text-anchor="end">PC5</text>
<line x1="842" y1="342.9" x2="856.3" y2="342.9"/>
<text x="852.2" y="341.7" font-size="5.4" class="n" text-anchor="middle">12</text>
<text x="838.4" y="351.72" font-size="5.8" text-anchor="end">PC6</text>
<line x1="842" y1="349.92" x2="856.3" y2="349.92"/>
<text x="852.2" y="348.72" font-size="5.4" class="n" text-anchor="middle">11</text>
<text x="838.4" y="358.74" font-size="5.8" text-anchor="end">PC7</text>
<line x1="842" y1="356.94" x2="856.3" y2="356.94"/>
<text x="852.2" y="355.74" font-size="5.4" class="n" text-anchor="middle">10</text>
<line x1="897.6" y1="229.6" x2="897.6" y2="400.8" stroke-width="3.5"/>
<rect x="939.2" y="203.7" width="17.5" height="77.1" stroke-width="1.3"/>
<text x="939.3" y="201" font-size="8.6" textLength="15" lengthAdjust="spacingAndGlyphs" class="b" font-weight="bold">RP1</text>
<text x="939.4" y="286.2" font-size="5.5">10K</text>
<polygon points="915.1,196.6 921.9,196.6 918.5,190" stroke-width="1.2" fill="#fff"/>
<line x1="918.5" y1="190" x2="918.5" y2="196.6" stroke-width="1"/>
<text x="918.5" y="184" font-size="5.5" text-anchor="middle">VCC</text>
<polyline points="918.5,196.6 918.5,210.1 939.2,210.1"/>
<text x="930.6" y="208.9" font-size="5.4" class="n" text-anchor="middle">1</text>
<polyline points="939.2,224.6 904.2,224.6 898.8,230"/>
<text x="911.4" y="223.4" font-size="5.8">KEY0</text>
<text x="930.2" y="223.4" font-size="5.4" class="n" text-anchor="middle">2</text>
<polyline points="939.2,231.56 904.2,231.56 898.8,236.96"/>
<text x="911.4" y="230.36" font-size="5.8">KEY1</text>
<text x="930.2" y="230.36" font-size="5.4" class="n" text-anchor="middle">3</text>
<polyline points="939.2,238.52 904.2,238.52 898.8,243.92"/>
<text x="911.4" y="237.32" font-size="5.8">KEY2</text>
<text x="930.2" y="237.32" font-size="5.4" class="n" text-anchor="middle">4</text>
<polyline points="939.2,245.48 904.2,245.48 898.8,250.88"/>
<text x="911.4" y="244.28" font-size="5.8">KEY3</text>
<text x="930.2" y="244.28" font-size="5.4" class="n" text-anchor="middle">5</text>
<polyline points="939.2,252.44 904.2,252.44 898.8,257.84"/>
<text x="911.4" y="251.24" font-size="5.8">KEY4</text>
<text x="930.2" y="251.24" font-size="5.4" class="n" text-anchor="middle">6</text>
<polyline points="939.2,259.4 904.2,259.4 898.8,264.8"/>
<text x="911.4" y="258.2" font-size="5.8">KEY5</text>
<text x="930.2" y="258.2" font-size="5.4" class="n" text-anchor="middle">7</text>
<polyline points="939.2,266.36 904.2,266.36 898.8,271.76"/>
<text x="911.4" y="265.16" font-size="5.8">KEY6</text>
<text x="930.2" y="265.16" font-size="5.4" class="n" text-anchor="middle">8</text>
<polyline points="939.2,273.32 904.2,273.32 898.8,278.72"/>
<text x="911.4" y="272.12" font-size="5.8">KEY7</text>
<text x="930.2" y="272.12" font-size="5.4" class="n" text-anchor="middle">9</text>
<polyline points="898.8,302.6 904.6,308.2 939.5,308.2"/>
<circle cx="941.4" cy="308.2" r="1.9" fill="#fff" stroke-width="1.3"/>
<circle cx="957.8" cy="308.2" r="1.9" fill="#fff" stroke-width="1.3"/>
<line x1="959.7" y1="308.2" x2="974" y2="308.2"/>
<line x1="939" y1="302.5" x2="960" y2="302.5" stroke-width="1.2"/>
<rect x="944.2" y="299.3" width="11.4" height="3.2" stroke-width="1.1"/>
<text x="911.4" y="306.1" font-size="5.8">KEY0</text>
<polyline points="898.8,316.56 904.6,322.16 939.5,322.16"/>
<circle cx="941.4" cy="322.16" r="1.9" fill="#fff" stroke-width="1.3"/>
<circle cx="957.8" cy="322.16" r="1.9" fill="#fff" stroke-width="1.3"/>
<line x1="959.7" y1="322.16" x2="974" y2="322.16"/>
<line x1="939" y1="316.46" x2="960" y2="316.46" stroke-width="1.2"/>
<rect x="944.2" y="313.26" width="11.4" height="3.2" stroke-width="1.1"/>
<text x="911.4" y="320.06" font-size="5.8">KEY1</text>
<circle cx="974" cy="322.16" r="1.9" fill="#151515" stroke="none"/>
<polyline points="898.8,330.52 904.6,336.12 939.5,336.12"/>
<circle cx="941.4" cy="336.12" r="1.9" fill="#fff" stroke-width="1.3"/>
<circle cx="957.8" cy="336.12" r="1.9" fill="#fff" stroke-width="1.3"/>
<line x1="959.7" y1="336.12" x2="974" y2="336.12"/>
<line x1="939" y1="330.42" x2="960" y2="330.42" stroke-width="1.2"/>
<rect x="944.2" y="327.22" width="11.4" height="3.2" stroke-width="1.1"/>
<text x="911.4" y="334.02" font-size="5.8">KEY2</text>
<circle cx="974" cy="336.12" r="1.9" fill="#151515" stroke="none"/>
<polyline points="898.8,344.48 904.6,350.08 939.5,350.08"/>
<circle cx="941.4" cy="350.08" r="1.9" fill="#fff" stroke-width="1.3"/>
<circle cx="957.8" cy="350.08" r="1.9" fill="#fff" stroke-width="1.3"/>
<line x1="959.7" y1="350.08" x2="974" y2="350.08"/>
<line x1="939" y1="344.38" x2="960" y2="344.38" stroke-width="1.2"/>
<rect x="944.2" y="341.18" width="11.4" height="3.2" stroke-width="1.1"/>
<text x="911.4" y="347.98" font-size="5.8">KEY3</text>
<circle cx="974" cy="350.08" r="1.9" fill="#151515" stroke="none"/>
<polyline points="898.8,358.44 904.6,364.04 939.5,364.04"/>
<circle cx="941.4" cy="364.04" r="1.9" fill="#fff" stroke-width="1.3"/>
<circle cx="957.8" cy="364.04" r="1.9" fill="#fff" stroke-width="1.3"/>
<line x1="959.7" y1="364.04" x2="974" y2="364.04"/>
<line x1="939" y1="358.34" x2="960" y2="358.34" stroke-width="1.2"/>
<rect x="944.2" y="355.14" width="11.4" height="3.2" stroke-width="1.1"/>
<text x="911.4" y="361.94" font-size="5.8">KEY4</text>
<circle cx="974" cy="364.04" r="1.9" fill="#151515" stroke="none"/>
<polyline points="898.8,372.4 904.6,378 939.5,378"/>
<circle cx="941.4" cy="378" r="1.9" fill="#fff" stroke-width="1.3"/>
<circle cx="957.8" cy="378" r="1.9" fill="#fff" stroke-width="1.3"/>
<line x1="959.7" y1="378" x2="974" y2="378"/>
<line x1="939" y1="372.3" x2="960" y2="372.3" stroke-width="1.2"/>
<rect x="944.2" y="369.1" width="11.4" height="3.2" stroke-width="1.1"/>
<text x="911.4" y="375.9" font-size="5.8">KEY5</text>
<circle cx="974" cy="378" r="1.9" fill="#151515" stroke="none"/>
<polyline points="898.8,386.36 904.6,391.96 939.5,391.96"/>
<circle cx="941.4" cy="391.96" r="1.9" fill="#fff" stroke-width="1.3"/>
<circle cx="957.8" cy="391.96" r="1.9" fill="#fff" stroke-width="1.3"/>
<line x1="959.7" y1="391.96" x2="974" y2="391.96"/>
<line x1="939" y1="386.26" x2="960" y2="386.26" stroke-width="1.2"/>
<rect x="944.2" y="383.06" width="11.4" height="3.2" stroke-width="1.1"/>
<text x="911.4" y="389.86" font-size="5.8">KEY6</text>
<circle cx="974" cy="391.96" r="1.9" fill="#151515" stroke="none"/>
<polyline points="898.8,400.32 904.6,405.92 939.5,405.92"/>
<circle cx="941.4" cy="405.92" r="1.9" fill="#fff" stroke-width="1.3"/>
<circle cx="957.8" cy="405.92" r="1.9" fill="#fff" stroke-width="1.3"/>
<line x1="959.7" y1="405.92" x2="974" y2="405.92"/>
<line x1="939" y1="400.22" x2="960" y2="400.22" stroke-width="1.2"/>
<rect x="944.2" y="397.02" width="11.4" height="3.2" stroke-width="1.1"/>
<text x="911.4" y="403.82" font-size="5.8">KEY7</text>
<circle cx="974" cy="405.92" r="1.9" fill="#151515" stroke="none"/>
<line x1="974" y1="308.2" x2="974" y2="419.9"/>
<line x1="966.7" y1="419.9" x2="981.3" y2="419.9" stroke-width="1.3"/>
<line x1="969.8" y1="423.3" x2="978.2" y2="423.3" stroke-width="1.4"/>
<line x1="972.7" y1="426.7" x2="975.3" y2="426.7" stroke-width="1.4"/>
<text x="619.1" y="296.2" font-size="5.5" text-anchor="middle">VCC</text>
<polygon points="615.7,308.8 622.5,308.8 619.1,302.2" stroke-width="1.2" fill="#fff"/>
<line x1="619.1" y1="302.2" x2="619.1" y2="308.8" stroke-width="1"/>
<line x1="619.1" y1="308.8" x2="619.1" y2="378.4"/>
<circle cx="619.1" cy="322.3" r="1.9" fill="#151515" stroke="none"/>
<circle cx="619.1" cy="343.3" r="8.3" stroke-width="1.3"/>
<polygon points="615.2,341.4 623,341.4 619.1,346.4" stroke-width="1.2"/>
<line x1="615.2" y1="346.6" x2="623" y2="346.6" stroke-width="1.3"/>
<line x1="619.1" y1="335" x2="619.1" y2="351.6"/>
<text x="631.7" y="342.2" font-size="8.3" class="r">D9</text>
<text x="631.9" y="350" font-size="5.5">POWER</text>
<polyline points="619.1,378.4 622.15,380.08 616.05,383.45 622.15,386.82 616.05,390.18 622.15,393.55 616.05,396.92 619.1,398.6" stroke-width="1.3"/>
<line x1="619.1" y1="398.6" x2="619.1" y2="427"/>
<line x1="611.8" y1="427" x2="626.4" y2="427" stroke-width="1.3"/>
<line x1="614.9" y1="430.4" x2="623.3" y2="430.4" stroke-width="1.4"/>
<line x1="617.8" y1="433.8" x2="620.4" y2="433.8" stroke-width="1.4"/>
<text x="627" y="385.6" font-size="8.3" class="r">R10</text>
<text x="627.2" y="393.8" font-size="5.5">220</text>
<polyline points="619.1,322.3 695.9,322.3 695.9,381.9"/>
<circle cx="661.1" cy="322.3" r="1.9" fill="#151515" stroke="none"/>
<line x1="661.1" y1="322.3" x2="661.1" y2="336.7"/>
<polyline points="661.1,336.7 664.15,338.38 658.05,341.75 664.15,345.12 658.05,348.48 664.15,351.85 658.05,355.22 661.1,356.9" stroke-width="1.3"/>
<text x="668.6" y="343.5" font-size="8.3" class="r">R9</text>
<text x="668.8" y="351.5" font-size="5.5">10K</text>
<line x1="661.1" y1="356.9" x2="661.1" y2="388.5"/>
<line x1="661.1" y1="392.7" x2="661.1" y2="413.2"/>
<line x1="653.9" y1="388.5" x2="668.3" y2="388.5" stroke-width="1.5"/>
<path d="M653.9 395.7 Q656.64 392.7 661.1 392.7 Q665.56 392.7 668.3 395.7" stroke-width="1.5"/>
<circle cx="661.1" cy="371.1" r="1.9" fill="#151515" stroke="none"/>
<circle cx="695.9" cy="371.1" r="1.9" fill="#151515" stroke="none"/>
<line x1="661.1" y1="371.1" x2="711.2" y2="371.1"/>
<circle cx="713.7" cy="371.1" r="2.7" fill="#fff" stroke-width="1.3"/>
<text x="720.2" y="372.8" font-size="5.7">RESET</text>
<line x1="688.5" y1="343.5" x2="703.3" y2="343.5" stroke-width="1.4"/>
<polygon points="689.3,350.3 702.5,350.3 695.9,343.7" stroke-width="1.2" fill="#fff"/>
<text x="707" y="350.6" font-size="8.3" class="r">D10</text>
<text x="707.2" y="358.2" font-size="5.5">1N4148</text>
<text x="671.8" y="392.6" font-size="8.3" class="r">C1</text>
<text x="672" y="400.4" font-size="5.5">0.1u</text>
<circle cx="695.9" cy="383.8" r="1.9" fill="#fff" stroke-width="1.3"/>
<circle cx="695.9" cy="400.2" r="1.9" fill="#fff" stroke-width="1.3"/>
<polyline points="695.9,402.1 695.9,413.2 619.1,413.2"/>
<circle cx="619.1" cy="413.2" r="1.9" fill="#151515" stroke="none"/>
<circle cx="661.1" cy="413.2" r="1.9" fill="#151515" stroke="none"/>
<line x1="701.6" y1="382" x2="701.6" y2="402.3" stroke-width="1.2"/>
<rect x="701.6" y="386.9" width="3.6" height="10.7" stroke-width="1.1"/>
<text x="516.6" y="284.3" font-size="5.5" text-anchor="middle">VCC</text>
<polygon points="513.2,296.2 520,296.2 516.6,289.6" stroke-width="1.2" fill="#fff"/>
<line x1="516.6" y1="289.6" x2="516.6" y2="296.2" stroke-width="1"/>
<line x1="516.6" y1="296.2" x2="516.6" y2="317"/>
<polyline points="516.6,317 519.65,318.69 513.55,322.07 519.65,325.46 513.55,328.84 519.65,332.22 513.55,335.61 516.6,337.3" stroke-width="1.3"/>
<line x1="516.6" y1="337.3" x2="516.6" y2="402.8"/>
<line x1="516.6" y1="364.7" x2="516.6" y2="402.8"/>
<line x1="516.6" y1="407" x2="516.6" y2="433.6"/>
<line x1="509.4" y1="402.8" x2="523.8" y2="402.8" stroke-width="1.5"/>
<path d="M509.4 410 Q512.14 407 516.6 407 Q521.06 407 523.8 410" stroke-width="1.5"/>
<line x1="509.3" y1="433.6" x2="523.9" y2="433.6" stroke-width="1.3"/>
<line x1="512.4" y1="437" x2="520.8" y2="437" stroke-width="1.4"/>
<line x1="515.3" y1="440.4" x2="517.9" y2="440.4" stroke-width="1.4"/>
<circle cx="516.6" cy="364.7" r="1.9" fill="#151515" stroke="none"/>
<text x="524.1" y="324.2" font-size="8.3" class="r">R2</text>
<text x="524.3" y="331.6" font-size="5.5">10K</text>
<text x="527.5" y="406.6" font-size="8.3" class="r">C21</text>
<text x="527.7" y="413.6" font-size="5.5">0.1u</text>
<polyline points="472.5,364.7 461.7,364.7 461.7,385.4"/>
<line x1="454.4" y1="385.4" x2="469" y2="385.4" stroke-width="1.3"/>
<line x1="457.5" y1="388.8" x2="465.9" y2="388.8" stroke-width="1.4"/>
<line x1="460.4" y1="392.2" x2="463" y2="392.2" stroke-width="1.4"/>
<circle cx="474.4" cy="364.7" r="1.9" fill="#fff" stroke-width="1.3"/>
<circle cx="490.7" cy="364.7" r="1.9" fill="#fff" stroke-width="1.3"/>
<line x1="492.6" y1="364.7" x2="530.2" y2="364.7"/>
<line x1="472.2" y1="359.2" x2="492.6" y2="359.2" stroke-width="1.2"/>
<rect x="477.1" y="356" width="11.4" height="3.2" stroke-width="1.1"/>
<text x="472" y="353.7" font-size="8.3" class="r">S5</text>
<text x="472.2" y="372.6" font-size="5.5">B3S-1000</text>
<polyline points="530.2,364.7 531.93,361.65 535.4,367.75 538.87,361.65 542.33,367.75 545.8,361.65 549.27,367.75 551,364.7" stroke-width="1.3"/>
<line x1="551" y1="364.7" x2="572.9" y2="364.7"/>
<circle cx="575.4" cy="364.7" r="2.7" fill="#fff" stroke-width="1.3"/>
<text x="530.2" y="358.8" font-size="8.3" class="r">R1</text>
<text x="530.4" y="373.2" font-size="5.5">1K</text>
<text x="581.8" y="366.4" font-size="5.7">MCLR</text>
<line x1="581.8" y1="361.9" x2="597.6" y2="361.9" stroke-width="0.6"/>
</svg>
<div class="frame"></div>
</body>
</html>
